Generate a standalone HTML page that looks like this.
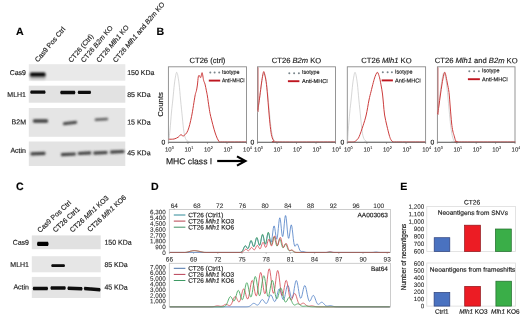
<!DOCTYPE html>
<html><head><meta charset="utf-8"><title>Figure</title>
<style>
html,body{margin:0;padding:0;background:#fff;}
svg{display:block;font-family:"Liberation Sans", Arial, Helvetica, sans-serif;}
text{stroke:#222;stroke-width:0.16px;}
text.th{stroke-width:0.05px;}
</style></head>
<body>
<svg width="520" height="315" viewBox="0 0 520 315">
<defs>
<filter id="bl" x="-30%" y="-100%" width="160%" height="300%"><feGaussianBlur stdDeviation="0.7"/></filter>
<filter id="bl2" x="-30%" y="-100%" width="160%" height="300%"><feGaussianBlur stdDeviation="0.85"/></filter>
<filter id="soft" x="-5%" y="-10%" width="110%" height="120%"><feGaussianBlur stdDeviation="0.4"/></filter>
</defs>
<rect width="520" height="315" fill="#fff"/>
<text x="16.00" y="34.90" font-size="10.6" text-anchor="start" font-weight="bold" fill="#000" transform="rotate(0.1 16.00 34.90)" >A</text>
<text x="156.50" y="34.90" font-size="10.6" text-anchor="start" font-weight="bold" fill="#000" transform="rotate(0.1 156.50 34.90)" >B</text>
<text x="16.00" y="190.10" font-size="10.6" text-anchor="start" font-weight="bold" fill="#000" transform="rotate(0.1 16.00 190.10)" >C</text>
<text x="151.00" y="190.10" font-size="10.6" text-anchor="start" font-weight="bold" fill="#000" transform="rotate(0.1 151.00 190.10)" >D</text>
<text x="400.20" y="190.10" font-size="10.6" text-anchor="start" font-weight="bold" fill="#000" transform="rotate(0.1 400.20 190.10)" >E</text>
<text x="0" y="0" font-size="7" fill="#1a1a1a" transform="translate(37.90,62.50) rotate(-50)">Cas9 Pos Ctrl</text>
<text x="0" y="0" font-size="7" fill="#1a1a1a" transform="translate(71.40,63.00) rotate(-50)">CT26 (Ctrl)</text>
<text x="0" y="0" font-size="7" fill="#1a1a1a" transform="translate(83.90,63.00) rotate(-50)">CT26 <tspan font-style="italic">B2m</tspan> KO</text>
<text x="0" y="0" font-size="7" fill="#1a1a1a" transform="translate(99.40,63.00) rotate(-50)">CT26 <tspan font-style="italic">Mlh1</tspan> KO</text>
<text x="0" y="0" font-size="7" fill="#1a1a1a" transform="translate(115.90,63.00) rotate(-50)">CT26 <tspan font-style="italic">Mlh1</tspan> and <tspan font-style="italic">B2m</tspan> KO</text>
<rect x="28.8" y="64.2" width="96.50" height="16.50" fill="#e9e9e9" filter="url(#soft)"/>
<rect x="28.8" y="85.7" width="96.50" height="17.00" fill="#e2e2e2" filter="url(#soft)"/>
<rect x="28.8" y="108" width="96.50" height="28.80" fill="#e5e5e5" filter="url(#soft)"/>
<rect x="28.8" y="141.5" width="96.50" height="24.50" fill="#e3e3e3" filter="url(#soft)"/>
<text x="26.00" y="75.10" font-size="7" text-anchor="end" font-weight="normal" fill="#1a1a1a" transform="rotate(0.1 26.00 75.10)" >Cas9</text>
<text x="26.00" y="97.00" font-size="7" text-anchor="end" font-weight="normal" fill="#1a1a1a" transform="rotate(0.1 26.00 97.00)" >MLH1</text>
<text x="26.00" y="124.40" font-size="7" text-anchor="end" font-weight="normal" fill="#1a1a1a" transform="rotate(0.1 26.00 124.40)" >B2M</text>
<text x="26.00" y="152.90" font-size="7" text-anchor="end" font-weight="normal" fill="#1a1a1a" transform="rotate(0.1 26.00 152.90)" >Actin</text>
<text x="127.20" y="74.90" font-size="7" text-anchor="start" font-weight="normal" fill="#1a1a1a" transform="rotate(0.1 127.20 74.90)" >150 KDa</text>
<text x="127.20" y="96.90" font-size="7" text-anchor="start" font-weight="normal" fill="#1a1a1a" transform="rotate(0.1 127.20 96.90)" >85 KDa</text>
<text x="127.20" y="124.60" font-size="7" text-anchor="start" font-weight="normal" fill="#1a1a1a" transform="rotate(0.1 127.20 124.60)" >15 KDa</text>
<text x="127.20" y="155.30" font-size="7" text-anchor="start" font-weight="normal" fill="#1a1a1a" transform="rotate(0.1 127.20 155.30)" >45 KDa</text>
<path d="M30.80,75.50 L45.00,75.50 Q46.20,77.50 45.00,79.50 L30.80,79.50 Q29.60,77.50 30.80,75.50Z" fill="#999" opacity="0.6" filter="url(#bl2)"/>
<path d="M30.50,72.40 L45.00,72.40 Q46.20,74.40 45.00,76.40 L30.50,76.40 Q29.30,74.40 30.50,72.40Z" fill="#050505" opacity="1.0" filter="url(#bl2)"/>
<path d="M30.80,90.55 L45.00,90.55 Q46.20,92.20 45.00,93.85 L30.80,93.85 Q29.60,92.20 30.80,90.55Z" fill="#0a0a0a" opacity="1.0" filter="url(#bl)"/>
<path d="M60.80,90.65 L74.80,90.65 Q76.00,92.40 74.80,94.15 L60.80,94.15 Q59.60,92.40 60.80,90.65Z" fill="#080808" opacity="1.0" filter="url(#bl)"/>
<path d="M78.30,90.85 L90.50,90.85 Q91.70,92.40 90.50,93.95 L78.30,93.95 Q77.10,92.40 78.30,90.85Z" fill="#101010" opacity="1.0" filter="url(#bl)"/>
<path d="M33.50,119.30 L47.50,119.30 Q48.70,121.00 47.50,122.70 L33.50,122.70 Q32.30,121.00 33.50,119.30Z" fill="#3c3c3c" opacity="1.0" filter="url(#bl2)"/>
<path d="M63.50,122.25 L76.50,120.75 Q77.70,122.25 76.50,123.75 L63.50,125.25 Q62.30,123.75 63.50,122.25Z" fill="#454545" opacity="1.0" filter="url(#bl2)"/>
<path d="M95.20,118.50 L107.60,117.70 Q108.80,119.00 107.60,120.30 L95.20,121.10 Q94.00,119.80 95.20,118.50Z" fill="#5a5a5a" opacity="1.0" filter="url(#bl2)"/>
<path d="M31.00,152.30 L45.00,151.70 Q46.20,153.30 45.00,154.90 L31.00,155.50 Q29.80,153.90 31.00,152.30Z" fill="#404040" opacity="1.0" filter="url(#bl2)"/>
<path d="M61.40,153.00 L75.40,152.40 Q76.60,154.00 75.40,155.60 L61.40,156.20 Q60.20,154.60 61.40,153.00Z" fill="#404040" opacity="1.0" filter="url(#bl2)"/>
<path d="M78.30,151.90 L90.80,151.30 Q92.00,152.90 90.80,154.50 L78.30,155.10 Q77.10,153.50 78.30,151.90Z" fill="#404040" opacity="1.0" filter="url(#bl2)"/>
<path d="M93.80,151.50 L107.10,150.90 Q108.30,152.50 107.10,154.10 L93.80,154.70 Q92.60,153.10 93.80,151.50Z" fill="#404040" opacity="1.0" filter="url(#bl2)"/>
<path d="M110.60,150.50 L124.00,149.90 Q125.20,151.50 124.00,153.10 L110.60,153.70 Q109.40,152.10 110.60,150.50Z" fill="#404040" opacity="1.0" filter="url(#bl2)"/>
<text x="0" y="0" font-size="7" fill="#1a1a1a" transform="translate(40.00,233.00) rotate(-43)">Cas9 Pos Ctrl</text>
<text x="0" y="0" font-size="7" fill="#1a1a1a" transform="translate(55.50,232.80) rotate(-43)">CT26 Ctrl1</text>
<text x="0" y="0" font-size="7" fill="#1a1a1a" transform="translate(72.50,232.80) rotate(-43)">CT26 <tspan font-style="italic">Mlh1</tspan> KO3</text>
<text x="0" y="0" font-size="7" fill="#1a1a1a" transform="translate(90.00,232.30) rotate(-43)">CT26 <tspan font-style="italic">Mlh1</tspan> KO6</text>
<rect x="31.8" y="235.4" width="68.90" height="13.80" fill="#e1e1e1" filter="url(#soft)"/>
<rect x="31.8" y="256.2" width="68.90" height="16.10" fill="#e6e6e6" filter="url(#soft)"/>
<rect x="31.8" y="276.9" width="68.90" height="21.10" fill="#e4e4e4" filter="url(#soft)"/>
<text x="29.00" y="244.80" font-size="7" text-anchor="end" font-weight="normal" fill="#1a1a1a" transform="rotate(0.1 29.00 244.80)" >Cas9</text>
<text x="29.00" y="267.10" font-size="7" text-anchor="end" font-weight="normal" fill="#1a1a1a" transform="rotate(0.1 29.00 267.10)" >MLH1</text>
<text x="29.00" y="289.40" font-size="7" text-anchor="end" font-weight="normal" fill="#1a1a1a" transform="rotate(0.1 29.00 289.40)" >Actin</text>
<text x="104.40" y="244.70" font-size="7" text-anchor="start" font-weight="normal" fill="#1a1a1a" transform="rotate(0.1 104.40 244.70)" >150 KDa</text>
<text x="104.40" y="266.90" font-size="7" text-anchor="start" font-weight="normal" fill="#1a1a1a" transform="rotate(0.1 104.40 266.90)" >85 KDa</text>
<text x="104.40" y="289.60" font-size="7" text-anchor="start" font-weight="normal" fill="#1a1a1a" transform="rotate(0.1 104.40 289.60)" >45 KDa</text>
<path d="M37.60,241.70 L48.00,241.70 Q49.20,243.80 48.00,245.90 L37.60,245.90 Q36.40,243.80 37.60,241.70Z" fill="#050505" opacity="1.0" filter="url(#bl)"/>
<path d="M51.80,264.30 L64.40,264.30 Q65.60,265.70 64.40,267.10 L51.80,267.10 Q50.60,265.70 51.80,264.30Z" fill="#080808" opacity="1.0" filter="url(#bl)"/>
<path d="M33.30,286.65 L47.50,286.65 Q48.70,288.40 47.50,290.15 L33.30,290.15 Q32.10,288.40 33.30,286.65Z" fill="#0a0a0a" opacity="1.0" filter="url(#bl)"/>
<path d="M51.00,286.35 L65.20,286.35 Q66.40,288.10 65.20,289.85 L51.00,289.85 Q49.80,288.10 51.00,286.35Z" fill="#0a0a0a" opacity="1.0" filter="url(#bl)"/>
<path d="M68.00,286.55 L82.00,286.95 Q83.20,288.70 82.00,290.45 L68.00,290.05 Q66.80,288.30 68.00,286.55Z" fill="#0a0a0a" opacity="1.0" filter="url(#bl)"/>
<path d="M84.40,286.75 L100.00,287.95 Q101.20,289.70 100.00,291.45 L84.40,290.25 Q83.20,288.50 84.40,286.75Z" fill="#0a0a0a" opacity="1.0" filter="url(#bl)"/>
<text x="207.45" y="63.10" font-size="7.6" text-anchor="middle" font-weight="normal" fill="#1a1a1a" transform="rotate(0.1 207.45 63.10)" >CT26 (ctrl)</text>
<rect x="168.4" y="66.8" width="78.10" height="75.50" fill="#fff" stroke="#8a8a8a" stroke-width="0.9"/>
<path d="M168.70,142.00 C168.92,140.00 169.53,135.00 170.00,130.00 C170.47,125.00 171.03,117.00 171.50,112.00 C171.97,107.00 172.32,104.67 172.80,100.00 C173.28,95.33 173.92,88.08 174.40,84.00 C174.88,79.92 175.38,77.33 175.70,75.50 C176.02,73.67 176.13,73.53 176.30,73.00 C176.47,72.47 176.57,72.30 176.70,72.30 C176.83,72.30 176.92,72.47 177.10,73.00 C177.28,73.53 177.47,73.67 177.80,75.50 C178.13,77.33 178.63,79.92 179.10,84.00 C179.57,88.08 180.05,94.33 180.60,100.00 C181.15,105.67 181.87,112.83 182.40,118.00 C182.93,123.17 183.28,127.58 183.80,131.00 C184.32,134.42 184.73,136.73 185.50,138.50 C186.27,140.27 187.48,141.02 188.40,141.60 C189.32,142.18 181.33,141.93 191.00,142.00 C200.67,142.07 237.17,142.00 246.40,142.00" fill="none" stroke="#c4c4c4" stroke-width="0.7"/>
<path d="M168.70,139.20 C169.60,139.17 172.48,139.37 174.10,139.00 C175.72,138.63 177.25,137.75 178.40,137.00 C179.55,136.25 180.18,134.67 181.00,134.50 C181.82,134.33 182.17,136.63 183.30,136.00 C184.43,135.37 186.42,133.98 187.80,130.70 C189.18,127.42 190.40,122.08 191.60,116.30 C192.80,110.52 194.20,100.25 195.00,96.00 C195.80,91.75 196.00,92.63 196.40,90.80 C196.80,88.97 197.08,87.33 197.40,85.00 C197.72,82.67 197.98,78.38 198.30,76.80 C198.62,75.22 198.90,75.37 199.30,75.50 C199.70,75.63 200.23,78.07 200.70,77.60 C201.17,77.13 201.62,72.25 202.10,72.70 C202.58,73.15 203.12,78.40 203.60,80.30 C204.08,82.20 204.53,82.35 205.00,84.10 C205.47,85.85 206.00,88.82 206.40,90.80 C206.80,92.78 206.97,93.30 207.40,96.00 C207.83,98.70 208.45,103.62 209.00,107.00 C209.55,110.38 209.67,111.97 210.70,116.30 C211.73,120.63 213.82,128.82 215.20,133.00 C216.58,137.18 217.80,139.90 219.00,141.40 C220.20,142.90 217.83,141.90 222.40,142.00 C226.97,142.10 242.40,142.00 246.40,142.00" fill="none" stroke="#cc3c3c" stroke-width="1.0"/>
<line x1="168.40" y1="142.3" x2="246.50" y2="142.3" stroke="#6a6a6a" stroke-width="0.9"/>
<circle cx="210.30" cy="72.50" r="1.0" fill="#7a868c"/>
<circle cx="214.60" cy="72.50" r="1.0" fill="#7a868c"/>
<circle cx="219.20" cy="72.50" r="1.0" fill="#7a868c"/>
<line x1="208.80" y1="80.60" x2="220.20" y2="80.60" stroke="#be1620" stroke-width="1.9"/>
<text x="222.10" y="73.70" font-size="5.4" text-anchor="start" font-weight="normal" fill="#1a1a1a" transform="rotate(0.1 222.10 73.70)" >Isotype</text>
<text x="222.10" y="82.30" font-size="5.6" text-anchor="start" font-weight="normal" fill="#1a1a1a" transform="rotate(0.1 222.10 82.30)" textLength="22.6" lengthAdjust="spacingAndGlyphs">Anti-MHCI</text>
<text x="163.40" y="144.50" font-size="6.8" text-anchor="middle" font-weight="normal" fill="#1a1a1a" transform="rotate(0.1 163.40 144.50)" >0</text>
<line x1="168.40" y1="142.3" x2="168.40" y2="143.8" stroke="#6a6a6a" stroke-width="0.7"/>
<text x="169.40" y="151.50" font-size="6.0" text-anchor="middle" font-weight="normal" fill="#1a1a1a" transform="rotate(0.1 169.40 151.50)" class="th">10<tspan font-size="3.8" dy="-2.4">0</tspan></text>
<line x1="187.93" y1="142.3" x2="187.93" y2="143.8" stroke="#6a6a6a" stroke-width="0.7"/>
<text x="188.93" y="151.50" font-size="6.0" text-anchor="middle" font-weight="normal" fill="#1a1a1a" transform="rotate(0.1 188.93 151.50)" class="th">10<tspan font-size="3.8" dy="-2.4">1</tspan></text>
<line x1="207.45" y1="142.3" x2="207.45" y2="143.8" stroke="#6a6a6a" stroke-width="0.7"/>
<text x="208.45" y="151.50" font-size="6.0" text-anchor="middle" font-weight="normal" fill="#1a1a1a" transform="rotate(0.1 208.45 151.50)" class="th">10<tspan font-size="3.8" dy="-2.4">2</tspan></text>
<line x1="226.97" y1="142.3" x2="226.97" y2="143.8" stroke="#6a6a6a" stroke-width="0.7"/>
<text x="227.97" y="151.50" font-size="6.0" text-anchor="middle" font-weight="normal" fill="#1a1a1a" transform="rotate(0.1 227.97 151.50)" class="th">10<tspan font-size="3.8" dy="-2.4">3</tspan></text>
<line x1="246.50" y1="142.3" x2="246.50" y2="143.8" stroke="#6a6a6a" stroke-width="0.7"/>
<text x="247.50" y="151.50" font-size="6.0" text-anchor="middle" font-weight="normal" fill="#1a1a1a" transform="rotate(0.1 247.50 151.50)" class="th">10<tspan font-size="3.8" dy="-2.4">4</tspan></text>
<text x="296.50" y="63.10" font-size="7.6" text-anchor="middle" font-weight="normal" fill="#1a1a1a" transform="rotate(0.1 296.50 63.10)" >CT26 <tspan font-style="italic">B2m</tspan> KO</text>
<rect x="257.5" y="66.8" width="78.00" height="75.50" fill="#fff" stroke="#8a8a8a" stroke-width="0.9"/>
<path d="M257.80,112.50 C257.98,111.08 258.50,107.25 258.90,104.00 C259.30,100.75 259.70,96.83 260.20,93.00 C260.70,89.17 261.42,84.08 261.90,81.00 C262.38,77.92 262.73,75.90 263.10,74.50 C263.47,73.10 263.80,72.60 264.10,72.60 C264.40,72.60 264.52,72.93 264.90,74.50 C265.28,76.07 265.90,78.42 266.40,82.00 C266.90,85.58 267.42,91.17 267.90,96.00 C268.38,100.83 268.83,106.17 269.30,111.00 C269.77,115.83 270.20,120.92 270.70,125.00 C271.20,129.08 271.70,132.80 272.30,135.50 C272.90,138.20 273.60,140.12 274.30,141.20 C275.00,142.28 266.30,141.87 276.50,142.00 C286.70,142.13 325.67,142.00 335.50,142.00" fill="none" stroke="#c4c4c4" stroke-width="0.7"/>
<path d="M257.80,110.50 C257.95,109.42 258.35,106.47 258.70,104.00 C259.05,101.53 259.43,99.20 259.90,95.70 C260.37,92.20 261.02,86.48 261.50,83.00 C261.98,79.52 262.43,76.70 262.80,74.80 C263.17,72.90 263.42,71.77 263.70,71.60 C263.98,71.43 264.10,72.15 264.50,73.80 C264.90,75.45 265.60,77.97 266.10,81.50 C266.60,85.03 267.05,90.10 267.50,95.00 C267.95,99.90 268.33,105.62 268.80,110.90 C269.27,116.18 269.80,122.47 270.30,126.70 C270.80,130.93 271.18,133.93 271.80,136.30 C272.42,138.67 273.07,139.95 274.00,140.90 C274.93,141.85 267.15,141.82 277.40,142.00 C287.65,142.18 325.82,142.00 335.50,142.00" fill="none" stroke="#cc3c3c" stroke-width="1.0"/>
<line x1="258.20" y1="67.3" x2="258.20" y2="112" stroke="#c86868" stroke-width="0.8"/>
<line x1="257.50" y1="142.3" x2="335.50" y2="142.3" stroke="#6a6a6a" stroke-width="0.9"/>
<circle cx="289.30" cy="73.20" r="1.0" fill="#7a868c"/>
<circle cx="294.10" cy="73.20" r="1.0" fill="#7a868c"/>
<circle cx="298.90" cy="73.20" r="1.0" fill="#7a868c"/>
<line x1="287.90" y1="81.20" x2="299.40" y2="81.20" stroke="#be1620" stroke-width="1.9"/>
<text x="302.10" y="73.80" font-size="5.4" text-anchor="start" font-weight="normal" fill="#1a1a1a" transform="rotate(0.1 302.10 73.80)" >Isotype</text>
<text x="302.10" y="82.90" font-size="5.6" text-anchor="start" font-weight="normal" fill="#1a1a1a" transform="rotate(0.1 302.10 82.90)" >Anti-MHCI</text>
<text x="252.50" y="144.50" font-size="6.8" text-anchor="middle" font-weight="normal" fill="#1a1a1a" transform="rotate(0.1 252.50 144.50)" >0</text>
<line x1="257.50" y1="142.3" x2="257.50" y2="143.8" stroke="#6a6a6a" stroke-width="0.7"/>
<text x="258.50" y="151.50" font-size="6.0" text-anchor="middle" font-weight="normal" fill="#1a1a1a" transform="rotate(0.1 258.50 151.50)" class="th">10<tspan font-size="3.8" dy="-2.4">0</tspan></text>
<line x1="277.00" y1="142.3" x2="277.00" y2="143.8" stroke="#6a6a6a" stroke-width="0.7"/>
<text x="278.00" y="151.50" font-size="6.0" text-anchor="middle" font-weight="normal" fill="#1a1a1a" transform="rotate(0.1 278.00 151.50)" class="th">10<tspan font-size="3.8" dy="-2.4">1</tspan></text>
<line x1="296.50" y1="142.3" x2="296.50" y2="143.8" stroke="#6a6a6a" stroke-width="0.7"/>
<text x="297.50" y="151.50" font-size="6.0" text-anchor="middle" font-weight="normal" fill="#1a1a1a" transform="rotate(0.1 297.50 151.50)" class="th">10<tspan font-size="3.8" dy="-2.4">2</tspan></text>
<line x1="316.00" y1="142.3" x2="316.00" y2="143.8" stroke="#6a6a6a" stroke-width="0.7"/>
<text x="317.00" y="151.50" font-size="6.0" text-anchor="middle" font-weight="normal" fill="#1a1a1a" transform="rotate(0.1 317.00 151.50)" class="th">10<tspan font-size="3.8" dy="-2.4">3</tspan></text>
<line x1="335.50" y1="142.3" x2="335.50" y2="143.8" stroke="#6a6a6a" stroke-width="0.7"/>
<text x="336.50" y="151.50" font-size="6.0" text-anchor="middle" font-weight="normal" fill="#1a1a1a" transform="rotate(0.1 336.50 151.50)" class="th">10<tspan font-size="3.8" dy="-2.4">4</tspan></text>
<text x="386.45" y="63.10" font-size="7.6" text-anchor="middle" font-weight="normal" fill="#1a1a1a" transform="rotate(0.1 386.45 63.10)" >CT26 <tspan font-style="italic">Mlh1</tspan> KO</text>
<rect x="347.3" y="66.8" width="78.30" height="75.50" fill="#fff" stroke="#8a8a8a" stroke-width="0.9"/>
<path d="M347.60,142.00 C347.72,140.00 347.93,135.00 348.30,130.00 C348.67,125.00 349.33,117.00 349.80,112.00 C350.27,107.00 350.62,104.67 351.10,100.00 C351.58,95.33 352.22,88.08 352.70,84.00 C353.18,79.92 353.68,77.33 354.00,75.50 C354.32,73.67 354.43,73.53 354.60,73.00 C354.77,72.47 354.87,72.30 355.00,72.30 C355.13,72.30 355.22,72.47 355.40,73.00 C355.58,73.53 355.77,73.67 356.10,75.50 C356.43,77.33 356.93,79.92 357.40,84.00 C357.87,88.08 358.35,94.33 358.90,100.00 C359.45,105.67 360.17,112.83 360.70,118.00 C361.23,123.17 361.58,127.58 362.10,131.00 C362.62,134.42 363.03,136.73 363.80,138.50 C364.57,140.27 365.78,141.02 366.70,141.60 C367.62,142.18 359.53,141.93 369.30,142.00 C379.07,142.07 415.97,142.00 425.30,142.00" fill="none" stroke="#c4c4c4" stroke-width="0.7"/>
<path d="M347.60,142.00 C348.38,142.00 351.13,142.07 352.30,142.00 C353.47,141.93 353.85,141.93 354.60,141.60 C355.35,141.27 356.03,140.85 356.80,140.00 C357.57,139.15 358.17,138.87 359.20,136.50 C360.23,134.13 361.83,129.38 363.00,125.80 C364.17,122.22 365.20,119.30 366.20,115.00 C367.20,110.70 368.20,103.88 369.00,100.00 C369.80,96.12 370.28,94.62 371.00,91.70 C371.72,88.78 372.63,85.00 373.30,82.50 C373.97,80.00 374.45,78.27 375.00,76.70 C375.55,75.13 376.18,73.83 376.60,73.10 C377.02,72.37 377.20,72.15 377.50,72.30 C377.80,72.45 378.05,73.08 378.40,74.00 C378.75,74.92 379.17,76.00 379.60,77.80 C380.03,79.60 380.52,82.10 381.00,84.80 C381.48,87.50 382.08,90.77 382.50,94.00 C382.92,97.23 383.15,100.70 383.50,104.20 C383.85,107.70 384.03,111.40 384.60,115.00 C385.17,118.60 386.13,122.47 386.90,125.80 C387.67,129.13 388.55,132.72 389.20,135.00 C389.85,137.28 390.20,138.38 390.80,139.50 C391.40,140.62 391.88,141.28 392.80,141.70 C393.72,142.12 390.88,141.95 396.30,142.00 C401.72,142.05 420.47,142.00 425.30,142.00" fill="none" stroke="#cc3c3c" stroke-width="1.0"/>
<line x1="347.30" y1="142.3" x2="425.60" y2="142.3" stroke="#6a6a6a" stroke-width="0.9"/>
<circle cx="382.80" cy="72.30" r="1.0" fill="#7a868c"/>
<circle cx="387.60" cy="72.30" r="1.0" fill="#7a868c"/>
<circle cx="391.90" cy="72.30" r="1.0" fill="#7a868c"/>
<line x1="381.70" y1="80.40" x2="392.90" y2="80.40" stroke="#be1620" stroke-width="1.9"/>
<text x="395.10" y="73.40" font-size="5.4" text-anchor="start" font-weight="normal" fill="#1a1a1a" transform="rotate(0.1 395.10 73.40)" >Isotype</text>
<text x="395.10" y="82.40" font-size="5.6" text-anchor="start" font-weight="normal" fill="#1a1a1a" transform="rotate(0.1 395.10 82.40)" >Anti-MHCI</text>
<text x="342.30" y="144.50" font-size="6.8" text-anchor="middle" font-weight="normal" fill="#1a1a1a" transform="rotate(0.1 342.30 144.50)" >0</text>
<line x1="347.30" y1="142.3" x2="347.30" y2="143.8" stroke="#6a6a6a" stroke-width="0.7"/>
<text x="348.30" y="151.50" font-size="6.0" text-anchor="middle" font-weight="normal" fill="#1a1a1a" transform="rotate(0.1 348.30 151.50)" class="th">10<tspan font-size="3.8" dy="-2.4">0</tspan></text>
<line x1="366.88" y1="142.3" x2="366.88" y2="143.8" stroke="#6a6a6a" stroke-width="0.7"/>
<text x="367.88" y="151.50" font-size="6.0" text-anchor="middle" font-weight="normal" fill="#1a1a1a" transform="rotate(0.1 367.88 151.50)" class="th">10<tspan font-size="3.8" dy="-2.4">1</tspan></text>
<line x1="386.45" y1="142.3" x2="386.45" y2="143.8" stroke="#6a6a6a" stroke-width="0.7"/>
<text x="387.45" y="151.50" font-size="6.0" text-anchor="middle" font-weight="normal" fill="#1a1a1a" transform="rotate(0.1 387.45 151.50)" class="th">10<tspan font-size="3.8" dy="-2.4">2</tspan></text>
<line x1="406.03" y1="142.3" x2="406.03" y2="143.8" stroke="#6a6a6a" stroke-width="0.7"/>
<text x="407.03" y="151.50" font-size="6.0" text-anchor="middle" font-weight="normal" fill="#1a1a1a" transform="rotate(0.1 407.03 151.50)" class="th">10<tspan font-size="3.8" dy="-2.4">3</tspan></text>
<line x1="425.60" y1="142.3" x2="425.60" y2="143.8" stroke="#6a6a6a" stroke-width="0.7"/>
<text x="426.60" y="151.50" font-size="6.0" text-anchor="middle" font-weight="normal" fill="#1a1a1a" transform="rotate(0.1 426.60 151.50)" class="th">10<tspan font-size="3.8" dy="-2.4">4</tspan></text>
<text x="476.20" y="63.10" font-size="7.6" text-anchor="middle" font-weight="normal" fill="#1a1a1a" transform="rotate(0.1 476.20 63.10)" >CT26 <tspan font-style="italic">Mlh1</tspan> and <tspan font-style="italic">B2m</tspan> KO</text>
<rect x="437.4" y="66.8" width="77.60" height="75.50" fill="#fff" stroke="#8a8a8a" stroke-width="0.9"/>
<path d="M437.70,112.50 C437.88,111.08 438.40,107.25 438.80,104.00 C439.20,100.75 439.60,96.83 440.10,93.00 C440.60,89.17 441.32,84.08 441.80,81.00 C442.28,77.92 442.63,75.90 443.00,74.50 C443.37,73.10 443.70,72.60 444.00,72.60 C444.30,72.60 444.42,72.93 444.80,74.50 C445.18,76.07 445.80,78.42 446.30,82.00 C446.80,85.58 447.32,91.17 447.80,96.00 C448.28,100.83 448.73,106.17 449.20,111.00 C449.67,115.83 450.10,120.92 450.60,125.00 C451.10,129.08 451.60,132.80 452.20,135.50 C452.80,138.20 453.50,140.12 454.20,141.20 C454.90,142.28 446.20,141.87 456.40,142.00 C466.60,142.13 505.57,142.00 515.40,142.00" fill="none" stroke="#c4c4c4" stroke-width="0.7"/>
<path d="M437.70,114.00 C437.90,112.67 438.45,109.17 438.90,106.00 C439.35,102.83 439.88,98.67 440.40,95.00 C440.92,91.33 441.45,87.33 442.00,84.00 C442.55,80.67 443.23,76.95 443.70,75.00 C444.17,73.05 444.47,72.33 444.80,72.30 C445.13,72.27 445.28,73.02 445.70,74.80 C446.12,76.58 446.75,80.05 447.30,83.00 C447.85,85.95 448.50,88.33 449.00,92.50 C449.50,96.67 449.87,102.92 450.30,108.00 C450.73,113.08 451.18,119.17 451.60,123.00 C452.02,126.83 452.38,128.90 452.80,131.00 C453.22,133.10 453.63,134.02 454.10,135.60 C454.57,137.18 455.05,139.47 455.60,140.50 C456.15,141.53 456.77,141.55 457.40,141.80 C458.03,142.05 449.73,141.97 459.40,142.00 C469.07,142.03 506.07,142.00 515.40,142.00" fill="none" stroke="#cc3c3c" stroke-width="1.0"/>
<line x1="438.10" y1="67.3" x2="438.10" y2="115" stroke="#c86868" stroke-width="0.8"/>
<line x1="437.40" y1="142.3" x2="515.00" y2="142.3" stroke="#6a6a6a" stroke-width="0.9"/>
<circle cx="469.30" cy="71.20" r="1.0" fill="#7a868c"/>
<circle cx="474.10" cy="71.20" r="1.0" fill="#7a868c"/>
<circle cx="478.90" cy="71.20" r="1.0" fill="#7a868c"/>
<line x1="467.90" y1="79.20" x2="479.90" y2="79.20" stroke="#be1620" stroke-width="1.9"/>
<text x="482.10" y="72.20" font-size="5.4" text-anchor="start" font-weight="normal" fill="#1a1a1a" transform="rotate(0.1 482.10 72.20)" >Isotype</text>
<text x="482.10" y="81.20" font-size="5.6" text-anchor="start" font-weight="normal" fill="#1a1a1a" transform="rotate(0.1 482.10 81.20)" >Anti-MHCI</text>
<text x="432.40" y="144.50" font-size="6.8" text-anchor="middle" font-weight="normal" fill="#1a1a1a" transform="rotate(0.1 432.40 144.50)" >0</text>
<line x1="437.40" y1="142.3" x2="437.40" y2="143.8" stroke="#6a6a6a" stroke-width="0.7"/>
<text x="438.40" y="151.50" font-size="6.0" text-anchor="middle" font-weight="normal" fill="#1a1a1a" transform="rotate(0.1 438.40 151.50)" class="th">10<tspan font-size="3.8" dy="-2.4">0</tspan></text>
<line x1="456.80" y1="142.3" x2="456.80" y2="143.8" stroke="#6a6a6a" stroke-width="0.7"/>
<text x="457.80" y="151.50" font-size="6.0" text-anchor="middle" font-weight="normal" fill="#1a1a1a" transform="rotate(0.1 457.80 151.50)" class="th">10<tspan font-size="3.8" dy="-2.4">1</tspan></text>
<line x1="476.20" y1="142.3" x2="476.20" y2="143.8" stroke="#6a6a6a" stroke-width="0.7"/>
<text x="477.20" y="151.50" font-size="6.0" text-anchor="middle" font-weight="normal" fill="#1a1a1a" transform="rotate(0.1 477.20 151.50)" class="th">10<tspan font-size="3.8" dy="-2.4">2</tspan></text>
<line x1="495.60" y1="142.3" x2="495.60" y2="143.8" stroke="#6a6a6a" stroke-width="0.7"/>
<text x="496.60" y="151.50" font-size="6.0" text-anchor="middle" font-weight="normal" fill="#1a1a1a" transform="rotate(0.1 496.60 151.50)" class="th">10<tspan font-size="3.8" dy="-2.4">3</tspan></text>
<line x1="515.00" y1="142.3" x2="515.00" y2="143.8" stroke="#6a6a6a" stroke-width="0.7"/>
<text x="516.00" y="151.50" font-size="6.0" text-anchor="middle" font-weight="normal" fill="#1a1a1a" transform="rotate(0.1 516.00 151.50)" class="th">10<tspan font-size="3.8" dy="-2.4">4</tspan></text>
<text x="0" y="0" font-size="7.8" fill="#1a1a1a" text-anchor="middle" transform="translate(162.8,104.4) rotate(-90)">Counts</text>
<text x="165.90" y="164.30" font-size="8.6" text-anchor="start" font-weight="normal" fill="#111" transform="rotate(0.1 165.90 164.30)" >MHC class I</text>
<line x1="217.2" y1="161" x2="244" y2="161" stroke="#000" stroke-width="2.2"/>
<path d="M237.0,156.4 L245.4,161 L237.0,165.6" fill="none" stroke="#000" stroke-width="2.2" stroke-linejoin="miter"/>
<rect x="169.3" y="209.5" width="221.20" height="43.10" fill="#fff" stroke="#c0c0c0" stroke-width="0.8"/>
<rect x="169.3" y="263.3" width="221.20" height="43.70" fill="#fff" stroke="#c0c0c0" stroke-width="0.8"/>
<text x="174.25" y="207.90" font-size="6.5" text-anchor="middle" font-weight="normal" fill="#1a1a1a" transform="rotate(0.1 174.25 207.90)" class="th">64</text>
<line x1="174.25" y1="209.5" x2="174.25" y2="208.3" stroke="#888" stroke-width="0.6"/>
<text x="196.97" y="207.90" font-size="6.5" text-anchor="middle" font-weight="normal" fill="#1a1a1a" transform="rotate(0.1 196.97 207.90)" class="th">68</text>
<line x1="196.97" y1="209.5" x2="196.97" y2="208.3" stroke="#888" stroke-width="0.6"/>
<text x="219.69" y="207.90" font-size="6.5" text-anchor="middle" font-weight="normal" fill="#1a1a1a" transform="rotate(0.1 219.69 207.90)" class="th">72</text>
<line x1="219.69" y1="209.5" x2="219.69" y2="208.3" stroke="#888" stroke-width="0.6"/>
<text x="242.41" y="207.90" font-size="6.5" text-anchor="middle" font-weight="normal" fill="#1a1a1a" transform="rotate(0.1 242.41 207.90)" class="th">76</text>
<line x1="242.41" y1="209.5" x2="242.41" y2="208.3" stroke="#888" stroke-width="0.6"/>
<text x="265.13" y="207.90" font-size="6.5" text-anchor="middle" font-weight="normal" fill="#1a1a1a" transform="rotate(0.1 265.13 207.90)" class="th">80</text>
<line x1="265.13" y1="209.5" x2="265.13" y2="208.3" stroke="#888" stroke-width="0.6"/>
<text x="287.85" y="207.90" font-size="6.5" text-anchor="middle" font-weight="normal" fill="#1a1a1a" transform="rotate(0.1 287.85 207.90)" class="th">84</text>
<line x1="287.85" y1="209.5" x2="287.85" y2="208.3" stroke="#888" stroke-width="0.6"/>
<text x="310.57" y="207.90" font-size="6.5" text-anchor="middle" font-weight="normal" fill="#1a1a1a" transform="rotate(0.1 310.57 207.90)" class="th">88</text>
<line x1="310.57" y1="209.5" x2="310.57" y2="208.3" stroke="#888" stroke-width="0.6"/>
<text x="333.29" y="207.90" font-size="6.5" text-anchor="middle" font-weight="normal" fill="#1a1a1a" transform="rotate(0.1 333.29 207.90)" class="th">92</text>
<line x1="333.29" y1="209.5" x2="333.29" y2="208.3" stroke="#888" stroke-width="0.6"/>
<text x="356.01" y="207.90" font-size="6.5" text-anchor="middle" font-weight="normal" fill="#1a1a1a" transform="rotate(0.1 356.01 207.90)" class="th">96</text>
<line x1="356.01" y1="209.5" x2="356.01" y2="208.3" stroke="#888" stroke-width="0.6"/>
<text x="378.73" y="207.90" font-size="6.5" text-anchor="middle" font-weight="normal" fill="#1a1a1a" transform="rotate(0.1 378.73 207.90)" class="th">100</text>
<line x1="378.73" y1="209.5" x2="378.73" y2="208.3" stroke="#888" stroke-width="0.6"/>
<text x="169.40" y="261.40" font-size="6.5" text-anchor="middle" font-weight="normal" fill="#1a1a1a" transform="rotate(0.1 169.40 261.40)" class="th">66</text>
<line x1="169.40" y1="252.6" x2="169.40" y2="253.79999999999998" stroke="#888" stroke-width="0.6"/>
<text x="193.60" y="261.40" font-size="6.5" text-anchor="middle" font-weight="normal" fill="#1a1a1a" transform="rotate(0.1 193.60 261.40)" class="th">69</text>
<line x1="193.60" y1="252.6" x2="193.60" y2="253.79999999999998" stroke="#888" stroke-width="0.6"/>
<text x="217.80" y="261.40" font-size="6.5" text-anchor="middle" font-weight="normal" fill="#1a1a1a" transform="rotate(0.1 217.80 261.40)" class="th">72</text>
<line x1="217.80" y1="252.6" x2="217.80" y2="253.79999999999998" stroke="#888" stroke-width="0.6"/>
<text x="242.00" y="261.40" font-size="6.5" text-anchor="middle" font-weight="normal" fill="#1a1a1a" transform="rotate(0.1 242.00 261.40)" class="th">75</text>
<line x1="242.00" y1="252.6" x2="242.00" y2="253.79999999999998" stroke="#888" stroke-width="0.6"/>
<text x="266.20" y="261.40" font-size="6.5" text-anchor="middle" font-weight="normal" fill="#1a1a1a" transform="rotate(0.1 266.20 261.40)" class="th">78</text>
<line x1="266.20" y1="252.6" x2="266.20" y2="253.79999999999998" stroke="#888" stroke-width="0.6"/>
<text x="290.40" y="261.40" font-size="6.5" text-anchor="middle" font-weight="normal" fill="#1a1a1a" transform="rotate(0.1 290.40 261.40)" class="th">81</text>
<line x1="290.40" y1="252.6" x2="290.40" y2="253.79999999999998" stroke="#888" stroke-width="0.6"/>
<text x="314.61" y="261.40" font-size="6.5" text-anchor="middle" font-weight="normal" fill="#1a1a1a" transform="rotate(0.1 314.61 261.40)" class="th">84</text>
<line x1="314.61" y1="252.6" x2="314.61" y2="253.79999999999998" stroke="#888" stroke-width="0.6"/>
<text x="338.81" y="261.40" font-size="6.5" text-anchor="middle" font-weight="normal" fill="#1a1a1a" transform="rotate(0.1 338.81 261.40)" class="th">87</text>
<line x1="338.81" y1="252.6" x2="338.81" y2="253.79999999999998" stroke="#888" stroke-width="0.6"/>
<text x="363.01" y="261.40" font-size="6.5" text-anchor="middle" font-weight="normal" fill="#1a1a1a" transform="rotate(0.1 363.01 261.40)" class="th">90</text>
<line x1="363.01" y1="252.6" x2="363.01" y2="253.79999999999998" stroke="#888" stroke-width="0.6"/>
<text x="387.21" y="261.40" font-size="6.5" text-anchor="middle" font-weight="normal" fill="#1a1a1a" transform="rotate(0.1 387.21 261.40)" class="th">93</text>
<line x1="387.21" y1="252.6" x2="387.21" y2="253.79999999999998" stroke="#888" stroke-width="0.6"/>
<text x="165.80" y="214.20" font-size="6.3" text-anchor="end" font-weight="normal" fill="#1a1a1a" transform="rotate(0.1 165.80 214.20)" class="th">6,300</text>
<text x="165.80" y="220.03" font-size="6.3" text-anchor="end" font-weight="normal" fill="#1a1a1a" transform="rotate(0.1 165.80 220.03)" class="th">5,400</text>
<text x="165.80" y="225.86" font-size="6.3" text-anchor="end" font-weight="normal" fill="#1a1a1a" transform="rotate(0.1 165.80 225.86)" class="th">4,500</text>
<text x="165.80" y="231.69" font-size="6.3" text-anchor="end" font-weight="normal" fill="#1a1a1a" transform="rotate(0.1 165.80 231.69)" class="th">3,600</text>
<text x="165.80" y="237.52" font-size="6.3" text-anchor="end" font-weight="normal" fill="#1a1a1a" transform="rotate(0.1 165.80 237.52)" class="th">2,700</text>
<text x="165.80" y="243.35" font-size="6.3" text-anchor="end" font-weight="normal" fill="#1a1a1a" transform="rotate(0.1 165.80 243.35)" class="th">1,800</text>
<text x="165.80" y="249.18" font-size="6.3" text-anchor="end" font-weight="normal" fill="#1a1a1a" transform="rotate(0.1 165.80 249.18)" class="th">900</text>
<text x="165.80" y="255.01" font-size="6.3" text-anchor="end" font-weight="normal" fill="#1a1a1a" transform="rotate(0.1 165.80 255.01)" class="th">0</text>
<text x="165.80" y="269.40" font-size="6.3" text-anchor="end" font-weight="normal" fill="#1a1a1a" transform="rotate(0.1 165.80 269.40)" class="th">7,000</text>
<text x="165.80" y="275.06" font-size="6.3" text-anchor="end" font-weight="normal" fill="#1a1a1a" transform="rotate(0.1 165.80 275.06)" class="th">6,000</text>
<text x="165.80" y="280.72" font-size="6.3" text-anchor="end" font-weight="normal" fill="#1a1a1a" transform="rotate(0.1 165.80 280.72)" class="th">5,000</text>
<text x="165.80" y="286.38" font-size="6.3" text-anchor="end" font-weight="normal" fill="#1a1a1a" transform="rotate(0.1 165.80 286.38)" class="th">4,000</text>
<text x="165.80" y="292.04" font-size="6.3" text-anchor="end" font-weight="normal" fill="#1a1a1a" transform="rotate(0.1 165.80 292.04)" class="th">3,000</text>
<text x="165.80" y="297.70" font-size="6.3" text-anchor="end" font-weight="normal" fill="#1a1a1a" transform="rotate(0.1 165.80 297.70)" class="th">2,000</text>
<text x="165.80" y="303.36" font-size="6.3" text-anchor="end" font-weight="normal" fill="#1a1a1a" transform="rotate(0.1 165.80 303.36)" class="th">1,000</text>
<text x="165.80" y="309.02" font-size="6.3" text-anchor="end" font-weight="normal" fill="#1a1a1a" transform="rotate(0.1 165.80 309.02)" class="th">0</text>
<line x1="173.8" y1="215.00" x2="185.4" y2="215.00" stroke="#2f8a98" stroke-width="1.0"/>
<text x="188.20" y="217.30" font-size="6.4" text-anchor="start" font-weight="normal" fill="#1a1a1a" transform="rotate(0.1 188.20 217.30)" >CT26 (Ctrl1)</text>
<line x1="173.8" y1="221.10" x2="185.4" y2="221.10" stroke="#b8404e" stroke-width="1.0"/>
<text x="188.20" y="223.40" font-size="6.4" text-anchor="start" font-weight="normal" fill="#1a1a1a" transform="rotate(0.1 188.20 223.40)" >CT26 <tspan font-style="italic">Mlh1</tspan> KO3</text>
<line x1="173.8" y1="227.20" x2="185.4" y2="227.20" stroke="#3f8e62" stroke-width="1.0"/>
<text x="188.20" y="229.50" font-size="6.4" text-anchor="start" font-weight="normal" fill="#1a1a1a" transform="rotate(0.1 188.20 229.50)" >CT26 <tspan font-style="italic">Mlh1</tspan> KO6</text>
<line x1="173.8" y1="268.30" x2="185.4" y2="268.30" stroke="#4a72a8" stroke-width="1.0"/>
<text x="188.20" y="270.60" font-size="6.4" text-anchor="start" font-weight="normal" fill="#1a1a1a" transform="rotate(0.1 188.20 270.60)" >CT26 (Ctrl1)</text>
<line x1="173.8" y1="274.40" x2="185.4" y2="274.40" stroke="#b83e54" stroke-width="1.0"/>
<text x="188.20" y="276.70" font-size="6.4" text-anchor="start" font-weight="normal" fill="#1a1a1a" transform="rotate(0.1 188.20 276.70)" >CT26 <tspan font-style="italic">Mlh1</tspan> KO3</text>
<line x1="173.8" y1="280.50" x2="185.4" y2="280.50" stroke="#3e9a64" stroke-width="1.0"/>
<text x="188.20" y="282.80" font-size="6.4" text-anchor="start" font-weight="normal" fill="#1a1a1a" transform="rotate(0.1 188.20 282.80)" >CT26 <tspan font-style="italic">Mlh1</tspan> KO6</text>
<text x="387.90" y="217.20" font-size="6.5" text-anchor="end" font-weight="normal" fill="#1a1a1a" transform="rotate(0.1 387.90 217.20)" >AA003063</text>
<text x="387.90" y="271.10" font-size="6.5" text-anchor="end" font-weight="normal" fill="#1a1a1a" transform="rotate(0.1 387.90 271.10)" >Bat64</text>
<path d="M169.80,252.45 L170.30,252.45 L170.80,252.45 L171.30,252.45 L171.80,252.45 L172.30,252.45 L172.80,252.45 L173.30,252.45 L173.80,252.45 L174.30,252.45 L174.80,252.45 L175.30,252.45 L175.80,252.45 L176.30,252.45 L176.80,252.45 L177.30,252.45 L177.80,252.45 L178.30,252.45 L178.80,252.45 L179.30,252.45 L179.80,252.45 L180.30,252.45 L180.80,252.45 L181.30,252.45 L181.80,252.45 L182.30,252.45 L182.80,252.45 L183.30,252.45 L183.80,252.45 L184.30,252.45 L184.80,252.45 L185.30,252.45 L185.80,252.45 L186.30,252.45 L186.80,252.45 L187.30,252.45 L187.80,252.45 L188.30,252.45 L188.80,252.45 L189.30,252.45 L189.80,252.45 L190.30,252.45 L190.80,252.45 L191.30,252.45 L191.80,252.45 L192.30,252.45 L192.80,252.45 L193.30,252.45 L193.80,252.45 L194.30,252.45 L194.80,252.45 L195.30,252.45 L195.80,252.45 L196.30,252.45 L196.80,252.45 L197.30,252.45 L197.80,252.45 L198.30,252.45 L198.80,252.45 L199.30,252.45 L199.80,252.45 L200.30,252.45 L200.80,252.45 L201.30,252.45 L201.80,252.45 L202.30,252.45 L202.80,252.45 L203.30,252.45 L203.80,252.45 L204.30,252.45 L204.80,252.45 L205.30,252.45 L205.80,252.45 L206.30,252.45 L206.80,252.45 L207.30,252.45 L207.80,252.45 L208.30,252.45 L208.80,252.45 L209.30,252.45 L209.80,252.45 L210.30,252.45 L210.80,252.45 L211.30,252.45 L211.80,252.45 L212.30,252.45 L212.80,252.45 L213.30,252.45 L213.80,252.45 L214.30,252.45 L214.80,252.45 L215.30,252.45 L215.80,252.45 L216.30,252.45 L216.80,252.45 L217.30,252.45 L217.80,252.45 L218.30,252.45 L218.80,252.45 L219.30,252.45 L219.80,252.45 L220.30,252.45 L220.80,252.45 L221.30,252.45 L221.80,252.45 L222.30,252.45 L222.80,252.45 L223.30,252.45 L223.80,252.45 L224.30,252.45 L224.80,252.45 L225.30,252.45 L225.80,252.45 L226.30,252.45 L226.80,252.45 L227.30,252.45 L227.80,252.45 L228.30,252.45 L228.80,252.45 L229.30,252.45 L229.80,252.45 L230.30,252.45 L230.80,252.45 L231.30,252.45 L231.80,252.45 L232.30,252.45 L232.80,252.45 L233.30,252.45 L233.80,252.45 L234.30,252.45 L234.80,252.45 L235.30,252.45 L235.80,252.45 L236.30,252.45 L236.80,252.45 L237.30,252.45 L237.80,252.45 L238.30,252.45 L238.80,252.45 L239.30,252.44 L239.80,252.42 L240.30,252.38 L240.80,252.29 L241.30,252.11 L241.80,251.76 L242.30,251.21 L242.80,250.39 L243.30,249.33 L243.80,248.15 L244.30,247.04 L244.80,246.23 L245.30,245.92 L245.80,246.17 L246.30,246.86 L246.80,247.73 L247.30,248.46 L247.80,248.73 L248.30,248.34 L248.80,247.23 L249.30,245.55 L249.80,243.66 L250.30,242.01 L250.80,241.04 L251.30,241.02 L251.80,241.93 L252.30,243.47 L252.80,245.13 L253.30,246.38 L253.80,246.81 L254.30,246.20 L254.80,244.63 L255.30,242.44 L255.80,240.20 L256.30,238.51 L256.80,237.88 L257.30,238.48 L257.80,240.10 L258.30,242.22 L258.80,244.17 L259.30,245.33 L259.80,245.31 L260.30,244.01 L260.80,241.71 L261.30,238.96 L261.80,236.51 L262.30,235.07 L262.80,235.05 L263.30,236.46 L263.80,238.84 L264.30,241.45 L264.80,243.49 L265.30,244.35 L265.80,243.75 L266.30,241.77 L266.80,238.91 L267.30,235.94 L267.80,233.69 L268.30,232.85 L268.80,233.64 L269.30,235.80 L269.80,238.59 L270.30,241.09 L270.80,242.45 L271.30,242.11 L271.80,239.94 L272.30,236.32 L272.80,232.08 L273.30,228.34 L273.80,226.13 L274.30,226.09 L274.80,228.19 L275.30,231.72 L275.80,235.52 L276.30,238.35 L276.80,239.24 L277.30,237.69 L277.80,233.90 L278.30,228.66 L278.80,223.31 L279.30,219.30 L279.80,217.80 L280.30,219.24 L280.80,223.15 L281.30,228.28 L281.80,233.10 L282.30,236.18 L282.80,236.62 L283.30,234.21 L283.80,229.54 L284.30,223.84 L284.80,218.72 L285.30,215.70 L285.80,215.72 L286.30,218.79 L286.80,224.01 L287.30,229.91 L287.80,234.95 L288.30,237.96 L288.80,238.41 L289.30,236.46 L289.80,232.92 L290.30,228.97 L290.80,225.94 L291.30,224.85 L291.80,226.10 L292.30,229.42 L292.80,233.95 L293.30,238.62 L293.80,242.50 L294.30,245.06 L294.80,246.20 L295.30,246.15 L295.80,245.40 L296.30,244.51 L296.80,243.94 L297.30,244.01 L297.80,244.76 L298.30,246.04 L298.80,247.55 L299.30,248.99 L299.80,250.14 L300.30,250.91 L300.80,251.33 L301.30,251.48 L301.80,251.48 L302.30,251.44 L302.80,251.43 L303.30,251.49 L303.80,251.62 L304.30,251.79 L304.80,251.97 L305.30,252.13 L305.80,252.26 L306.30,252.34 L306.80,252.40 L307.30,252.43 L307.80,252.44 L308.30,252.45 L308.80,252.45 L309.30,252.45 L309.80,252.45 L310.30,252.45 L310.80,252.45 L311.30,252.45 L311.80,252.45 L312.30,252.45 L312.80,252.45 L313.30,252.45 L313.80,252.45 L314.30,252.45 L314.80,252.45 L315.30,252.45 L315.80,252.45 L316.30,252.45 L316.80,252.45 L317.30,252.45 L317.80,252.45 L318.30,252.45 L318.80,252.45 L319.30,252.45 L319.80,252.45 L320.30,252.45 L320.80,252.45 L321.30,252.45 L321.80,252.45 L322.30,252.45 L322.80,252.45 L323.30,252.45 L323.80,252.45 L324.30,252.45 L324.80,252.45 L325.30,252.44 L325.80,252.43 L326.30,252.41 L326.80,252.37 L327.30,252.32 L327.80,252.24 L328.30,252.16 L328.80,252.07 L329.30,251.99 L329.80,251.95 L330.30,251.96 L330.80,252.01 L331.30,252.08 L331.80,252.17 L332.30,252.26 L332.80,252.33 L333.30,252.38 L333.80,252.41 L334.30,252.43 L334.80,252.44 L335.30,252.45 L335.80,252.45 L336.30,252.45 L336.80,252.45 L337.30,252.45 L337.80,252.45 L338.30,252.45 L338.80,252.45 L339.30,252.45 L339.80,252.45 L340.30,252.45 L340.80,252.45 L341.30,252.45 L341.80,252.45 L342.30,252.45 L342.80,252.45 L343.30,252.45 L343.80,252.45 L344.30,252.45 L344.80,252.45 L345.30,252.45 L345.80,252.45 L346.30,252.45 L346.80,252.45 L347.30,252.45 L347.80,252.45 L348.30,252.45 L348.80,252.45 L349.30,252.45 L349.80,252.45 L350.30,252.45 L350.80,252.45 L351.30,252.45 L351.80,252.45 L352.30,252.45 L352.80,252.45 L353.30,252.45 L353.80,252.45 L354.30,252.45 L354.80,252.45 L355.30,252.45 L355.80,252.45 L356.30,252.45 L356.80,252.45 L357.30,252.45 L357.80,252.45 L358.30,252.45 L358.80,252.45 L359.30,252.45 L359.80,252.45 L360.30,252.45 L360.80,252.45 L361.30,252.45 L361.80,252.45 L362.30,252.45 L362.80,252.45 L363.30,252.45 L363.80,252.45 L364.30,252.45 L364.80,252.45 L365.30,252.45 L365.80,252.45 L366.30,252.45 L366.80,252.45 L367.30,252.45 L367.80,252.45 L368.30,252.45 L368.80,252.45 L369.30,252.45 L369.80,252.45 L370.30,252.45 L370.80,252.45 L371.30,252.44 L371.80,252.43 L372.30,252.42 L372.80,252.39 L373.30,252.35 L373.80,252.29 L374.30,252.21 L374.80,252.14 L375.30,252.08 L375.80,252.05 L376.30,252.06 L376.80,252.09 L377.30,252.16 L377.80,252.23 L378.30,252.30 L378.80,252.36 L379.30,252.40 L379.80,252.42 L380.30,252.44 L380.80,252.44 L381.30,252.45 L381.80,252.45 L382.30,252.45 L382.80,252.45 L383.30,252.45 L383.80,252.45 L384.30,252.45 L384.80,252.45 L385.30,252.45 L385.80,252.45 L386.30,252.45 L386.80,252.45 L387.30,252.45 L387.80,252.45 L388.30,252.45 L388.80,252.45 L389.30,252.45 L389.80,252.45" fill="none" stroke="#4f7fc6" stroke-width="0.9" stroke-opacity="0.9"/>
<path d="M169.80,252.45 L170.30,252.45 L170.80,252.45 L171.30,252.45 L171.80,252.45 L172.30,252.45 L172.80,252.45 L173.30,252.45 L173.80,252.45 L174.30,252.45 L174.80,252.45 L175.30,252.45 L175.80,252.45 L176.30,252.45 L176.80,252.45 L177.30,252.45 L177.80,252.45 L178.30,252.45 L178.80,252.45 L179.30,252.45 L179.80,252.45 L180.30,252.45 L180.80,252.45 L181.30,252.45 L181.80,252.45 L182.30,252.45 L182.80,252.45 L183.30,252.45 L183.80,252.45 L184.30,252.44 L184.80,252.43 L185.30,252.41 L185.80,252.37 L186.30,252.31 L186.80,252.23 L187.30,252.12 L187.80,251.99 L188.30,251.85 L188.80,251.71 L189.30,251.57 L189.80,251.43 L190.30,251.29 L190.80,251.17 L191.30,251.05 L191.80,250.94 L192.30,250.84 L192.80,250.75 L193.30,250.69 L193.80,250.64 L194.30,250.63 L194.80,250.64 L195.30,250.68 L195.80,250.74 L196.30,250.80 L196.80,250.88 L197.30,250.97 L197.80,251.07 L198.30,251.16 L198.80,251.27 L199.30,251.37 L199.80,251.48 L200.30,251.60 L200.80,251.71 L201.30,251.82 L201.80,251.93 L202.30,252.04 L202.80,252.14 L203.30,252.23 L203.80,252.31 L204.30,252.36 L204.80,252.40 L205.30,252.42 L205.80,252.44 L206.30,252.44 L206.80,252.45 L207.30,252.45 L207.80,252.45 L208.30,252.45 L208.80,252.45 L209.30,252.45 L209.80,252.45 L210.30,252.45 L210.80,252.45 L211.30,252.45 L211.80,252.45 L212.30,252.45 L212.80,252.45 L213.30,252.45 L213.80,252.45 L214.30,252.45 L214.80,252.45 L215.30,252.45 L215.80,252.45 L216.30,252.45 L216.80,252.45 L217.30,252.45 L217.80,252.45 L218.30,252.45 L218.80,252.45 L219.30,252.45 L219.80,252.45 L220.30,252.45 L220.80,252.45 L221.30,252.45 L221.80,252.45 L222.30,252.45 L222.80,252.45 L223.30,252.45 L223.80,252.45 L224.30,252.45 L224.80,252.45 L225.30,252.45 L225.80,252.45 L226.30,252.45 L226.80,252.45 L227.30,252.45 L227.80,252.45 L228.30,252.45 L228.80,252.45 L229.30,252.45 L229.80,252.45 L230.30,252.45 L230.80,252.45 L231.30,252.45 L231.80,252.45 L232.30,252.45 L232.80,252.45 L233.30,252.45 L233.80,252.45 L234.30,252.45 L234.80,252.45 L235.30,252.45 L235.80,252.45 L236.30,252.45 L236.80,252.45 L237.30,252.45 L237.80,252.45 L238.30,252.45 L238.80,252.45 L239.30,252.44 L239.80,252.42 L240.30,252.38 L240.80,252.29 L241.30,252.09 L241.80,251.73 L242.30,251.15 L242.80,250.29 L243.30,249.19 L243.80,247.95 L244.30,246.79 L244.80,245.95 L245.30,245.62 L245.80,245.88 L246.30,246.60 L246.80,247.52 L247.30,248.28 L247.80,248.57 L248.30,248.16 L248.80,247.00 L249.30,245.25 L249.80,243.28 L250.30,241.55 L250.80,240.54 L251.30,240.52 L251.80,241.47 L252.30,243.08 L252.80,244.82 L253.30,246.13 L253.80,246.59 L254.30,245.97 L254.80,244.35 L255.30,242.09 L255.80,239.77 L256.30,238.03 L256.80,237.38 L257.30,238.00 L257.80,239.68 L258.30,241.87 L258.80,243.88 L259.30,245.07 L259.80,245.04 L260.30,243.69 L260.80,241.28 L261.30,238.42 L261.80,235.88 L262.30,234.37 L262.80,234.36 L263.30,235.83 L263.80,238.30 L264.30,241.01 L264.80,243.14 L265.30,244.04 L265.80,243.42 L266.30,241.38 L266.80,238.43 L267.30,235.35 L267.80,233.03 L268.30,232.17 L268.80,233.04 L269.30,235.39 L269.80,238.52 L270.30,241.59 L270.80,243.81 L271.30,244.72 L271.80,244.20 L272.30,242.55 L272.80,240.32 L273.30,238.26 L273.80,237.03 L274.30,237.05 L274.80,238.33 L275.30,240.49 L275.80,242.90 L276.30,244.91 L276.80,246.00 L277.30,245.94 L277.80,244.80 L278.30,242.96 L278.80,240.97 L279.30,239.45 L279.80,238.89 L280.30,239.49 L280.80,241.08 L281.30,243.21 L281.80,245.33 L282.30,246.94 L282.80,247.75 L283.30,247.67 L283.80,246.89 L284.30,245.74 L284.80,244.65 L285.30,243.99 L285.80,244.02 L286.30,244.76 L286.80,246.02 L287.30,247.49 L287.80,248.86 L288.30,249.91 L288.80,250.53 L289.30,250.75 L289.80,250.69 L290.30,250.48 L290.80,250.29 L291.30,250.23 L291.80,250.34 L292.30,250.62 L292.80,250.99 L293.30,251.39 L293.80,251.75 L294.30,252.03 L294.80,252.22 L295.30,252.33 L295.80,252.40 L296.30,252.43 L296.80,252.44 L297.30,252.45 L297.80,252.45 L298.30,252.45 L298.80,252.45 L299.30,252.45 L299.80,252.45 L300.30,252.45 L300.80,252.45 L301.30,252.45 L301.80,252.45 L302.30,252.45 L302.80,252.45 L303.30,252.45 L303.80,252.45 L304.30,252.45 L304.80,252.45 L305.30,252.45 L305.80,252.45 L306.30,252.45 L306.80,252.45 L307.30,252.45 L307.80,252.45 L308.30,252.45 L308.80,252.45 L309.30,252.45 L309.80,252.45 L310.30,252.45 L310.80,252.45 L311.30,252.45 L311.80,252.45 L312.30,252.45 L312.80,252.45 L313.30,252.45 L313.80,252.45 L314.30,252.45 L314.80,252.45 L315.30,252.45 L315.80,252.45 L316.30,252.45 L316.80,252.45 L317.30,252.45 L317.80,252.45 L318.30,252.45 L318.80,252.45 L319.30,252.45 L319.80,252.45 L320.30,252.45 L320.80,252.45 L321.30,252.45 L321.80,252.45 L322.30,252.45 L322.80,252.45 L323.30,252.45 L323.80,252.45 L324.30,252.45 L324.80,252.45 L325.30,252.45 L325.80,252.45 L326.30,252.45 L326.80,252.45 L327.30,252.45 L327.80,252.45 L328.30,252.45 L328.80,252.45 L329.30,252.45 L329.80,252.45 L330.30,252.45 L330.80,252.45 L331.30,252.45 L331.80,252.45 L332.30,252.45 L332.80,252.45 L333.30,252.45 L333.80,252.45 L334.30,252.45 L334.80,252.45 L335.30,252.45 L335.80,252.45 L336.30,252.45 L336.80,252.45 L337.30,252.45 L337.80,252.45 L338.30,252.45 L338.80,252.45 L339.30,252.45 L339.80,252.45 L340.30,252.45 L340.80,252.45 L341.30,252.45 L341.80,252.45 L342.30,252.45 L342.80,252.45 L343.30,252.45 L343.80,252.45 L344.30,252.45 L344.80,252.45 L345.30,252.45 L345.80,252.45 L346.30,252.45 L346.80,252.45 L347.30,252.45 L347.80,252.45 L348.30,252.45 L348.80,252.45 L349.30,252.45 L349.80,252.45 L350.30,252.45 L350.80,252.45 L351.30,252.45 L351.80,252.45 L352.30,252.45 L352.80,252.45 L353.30,252.45 L353.80,252.45 L354.30,252.45 L354.80,252.45 L355.30,252.45 L355.80,252.45 L356.30,252.45 L356.80,252.45 L357.30,252.45 L357.80,252.45 L358.30,252.45 L358.80,252.45 L359.30,252.45 L359.80,252.45 L360.30,252.45 L360.80,252.45 L361.30,252.45 L361.80,252.45 L362.30,252.45 L362.80,252.45 L363.30,252.45 L363.80,252.45 L364.30,252.45 L364.80,252.45 L365.30,252.45 L365.80,252.45 L366.30,252.45 L366.80,252.45 L367.30,252.45 L367.80,252.45 L368.30,252.45 L368.80,252.45 L369.30,252.45 L369.80,252.45 L370.30,252.45 L370.80,252.45 L371.30,252.45 L371.80,252.45 L372.30,252.45 L372.80,252.45 L373.30,252.45 L373.80,252.45 L374.30,252.45 L374.80,252.45 L375.30,252.45 L375.80,252.45 L376.30,252.45 L376.80,252.45 L377.30,252.45 L377.80,252.45 L378.30,252.45 L378.80,252.45 L379.30,252.45 L379.80,252.45 L380.30,252.45 L380.80,252.45 L381.30,252.45 L381.80,252.45 L382.30,252.45 L382.80,252.45 L383.30,252.45 L383.80,252.45 L384.30,252.45 L384.80,252.45 L385.30,252.45 L385.80,252.45 L386.30,252.45 L386.80,252.45 L387.30,252.45 L387.80,252.45 L388.30,252.45 L388.80,252.45 L389.30,252.45 L389.80,252.45" fill="none" stroke="#3fa45a" stroke-width="0.9" stroke-opacity="0.85"/>
<path d="M169.80,252.45 L170.30,252.45 L170.80,252.45 L171.30,252.45 L171.80,252.45 L172.30,252.45 L172.80,252.45 L173.30,252.45 L173.80,252.45 L174.30,252.45 L174.80,252.45 L175.30,252.45 L175.80,252.45 L176.30,252.45 L176.80,252.45 L177.30,252.45 L177.80,252.45 L178.30,252.45 L178.80,252.45 L179.30,252.45 L179.80,252.45 L180.30,252.45 L180.80,252.45 L181.30,252.45 L181.80,252.45 L182.30,252.45 L182.80,252.45 L183.30,252.45 L183.80,252.45 L184.30,252.44 L184.80,252.43 L185.30,252.41 L185.80,252.37 L186.30,252.31 L186.80,252.23 L187.30,252.12 L187.80,251.99 L188.30,251.85 L188.80,251.71 L189.30,251.57 L189.80,251.43 L190.30,251.29 L190.80,251.17 L191.30,251.05 L191.80,250.94 L192.30,250.84 L192.80,250.75 L193.30,250.69 L193.80,250.64 L194.30,250.63 L194.80,250.64 L195.30,250.68 L195.80,250.74 L196.30,250.80 L196.80,250.88 L197.30,250.97 L197.80,251.07 L198.30,251.16 L198.80,251.27 L199.30,251.37 L199.80,251.48 L200.30,251.60 L200.80,251.71 L201.30,251.82 L201.80,251.93 L202.30,252.04 L202.80,252.14 L203.30,252.23 L203.80,252.31 L204.30,252.36 L204.80,252.40 L205.30,252.42 L205.80,252.44 L206.30,252.44 L206.80,252.45 L207.30,252.45 L207.80,252.45 L208.30,252.45 L208.80,252.45 L209.30,252.45 L209.80,252.45 L210.30,252.45 L210.80,252.45 L211.30,252.45 L211.80,252.45 L212.30,252.45 L212.80,252.45 L213.30,252.45 L213.80,252.45 L214.30,252.45 L214.80,252.45 L215.30,252.45 L215.80,252.45 L216.30,252.45 L216.80,252.45 L217.30,252.45 L217.80,252.45 L218.30,252.45 L218.80,252.45 L219.30,252.45 L219.80,252.45 L220.30,252.45 L220.80,252.45 L221.30,252.45 L221.80,252.45 L222.30,252.45 L222.80,252.45 L223.30,252.45 L223.80,252.45 L224.30,252.45 L224.80,252.45 L225.30,252.45 L225.80,252.45 L226.30,252.45 L226.80,252.45 L227.30,252.45 L227.80,252.45 L228.30,252.45 L228.80,252.45 L229.30,252.45 L229.80,252.45 L230.30,252.45 L230.80,252.45 L231.30,252.45 L231.80,252.45 L232.30,252.45 L232.80,252.45 L233.30,252.45 L233.80,252.45 L234.30,252.45 L234.80,252.45 L235.30,252.45 L235.80,252.45 L236.30,252.45 L236.80,252.45 L237.30,252.45 L237.80,252.45 L238.30,252.45 L238.80,252.45 L239.30,252.45 L239.80,252.45 L240.30,252.44 L240.80,252.42 L241.30,252.37 L241.80,252.28 L242.30,252.11 L242.80,251.84 L243.30,251.43 L243.80,250.91 L244.30,250.33 L244.80,249.79 L245.30,249.39 L245.80,249.24 L246.30,249.36 L246.80,249.71 L247.30,250.15 L247.80,250.54 L248.30,250.72 L248.80,250.59 L249.30,250.14 L249.80,249.43 L250.30,248.62 L250.80,247.91 L251.30,247.49 L251.80,247.48 L252.30,247.87 L252.80,248.53 L253.30,249.23 L253.80,249.74 L254.30,249.86 L254.80,249.51 L255.30,248.71 L255.80,247.64 L256.30,246.54 L256.80,245.72 L257.30,245.42 L257.80,245.70 L258.30,246.46 L258.80,247.46 L259.30,248.34 L259.80,248.79 L260.30,248.62 L260.80,247.77 L261.30,246.38 L261.80,244.77 L262.30,243.35 L262.80,242.52 L263.30,242.50 L263.80,243.29 L264.30,244.62 L264.80,246.05 L265.30,247.11 L265.80,247.43 L266.30,246.82 L266.80,245.36 L267.30,243.35 L267.80,241.30 L268.30,239.77 L268.80,239.19 L269.30,239.73 L269.80,241.20 L270.30,243.12 L270.80,244.87 L271.30,245.89 L271.80,245.81 L272.30,244.55 L272.80,242.35 L273.30,239.74 L273.80,237.43 L274.30,236.07 L274.80,236.06 L275.30,237.41 L275.80,239.70 L276.30,242.25 L276.80,244.36 L277.30,245.46 L277.80,245.32 L278.30,244.01 L278.80,241.93 L279.30,239.70 L279.80,238.01 L280.30,237.39 L280.80,238.05 L281.30,239.82 L281.80,242.20 L282.30,244.57 L282.80,246.40 L283.30,247.33 L283.80,247.32 L284.30,246.53 L284.80,245.33 L285.30,244.18 L285.80,243.49 L286.30,243.52 L286.80,244.30 L287.30,245.64 L287.80,247.19 L288.30,248.65 L288.80,249.75 L289.30,250.39 L289.80,250.62 L290.30,250.54 L290.80,250.31 L291.30,250.10 L291.80,250.03 L292.30,250.15 L292.80,250.45 L293.30,250.86 L293.80,251.30 L294.30,251.69 L294.80,251.99 L295.30,252.20 L295.80,252.32 L296.30,252.39 L296.80,252.43 L297.30,252.44 L297.80,252.45 L298.30,252.45 L298.80,252.45 L299.30,252.45 L299.80,252.45 L300.30,252.45 L300.80,252.45 L301.30,252.45 L301.80,252.45 L302.30,252.45 L302.80,252.45 L303.30,252.45 L303.80,252.45 L304.30,252.45 L304.80,252.45 L305.30,252.45 L305.80,252.45 L306.30,252.45 L306.80,252.45 L307.30,252.45 L307.80,252.45 L308.30,252.45 L308.80,252.45 L309.30,252.45 L309.80,252.45 L310.30,252.45 L310.80,252.45 L311.30,252.45 L311.80,252.45 L312.30,252.45 L312.80,252.45 L313.30,252.45 L313.80,252.45 L314.30,252.45 L314.80,252.45 L315.30,252.45 L315.80,252.45 L316.30,252.45 L316.80,252.45 L317.30,252.45 L317.80,252.45 L318.30,252.45 L318.80,252.45 L319.30,252.45 L319.80,252.45 L320.30,252.45 L320.80,252.45 L321.30,252.45 L321.80,252.45 L322.30,252.45 L322.80,252.45 L323.30,252.45 L323.80,252.45 L324.30,252.45 L324.80,252.45 L325.30,252.44 L325.80,252.43 L326.30,252.40 L326.80,252.36 L327.30,252.29 L327.80,252.20 L328.30,252.10 L328.80,251.99 L329.30,251.90 L329.80,251.85 L330.30,251.86 L330.80,251.92 L331.30,252.01 L331.80,252.12 L332.30,252.22 L332.80,252.31 L333.30,252.37 L333.80,252.41 L334.30,252.43 L334.80,252.44 L335.30,252.45 L335.80,252.45 L336.30,252.45 L336.80,252.45 L337.30,252.45 L337.80,252.45 L338.30,252.45 L338.80,252.45 L339.30,252.45 L339.80,252.45 L340.30,252.45 L340.80,252.45 L341.30,252.45 L341.80,252.45 L342.30,252.45 L342.80,252.45 L343.30,252.45 L343.80,252.45 L344.30,252.45 L344.80,252.45 L345.30,252.45 L345.80,252.45 L346.30,252.45 L346.80,252.45 L347.30,252.45 L347.80,252.45 L348.30,252.45 L348.80,252.45 L349.30,252.45 L349.80,252.45 L350.30,252.45 L350.80,252.45 L351.30,252.45 L351.80,252.45 L352.30,252.45 L352.80,252.45 L353.30,252.45 L353.80,252.45 L354.30,252.45 L354.80,252.45 L355.30,252.45 L355.80,252.45 L356.30,252.45 L356.80,252.45 L357.30,252.45 L357.80,252.45 L358.30,252.45 L358.80,252.45 L359.30,252.45 L359.80,252.45 L360.30,252.45 L360.80,252.45 L361.30,252.45 L361.80,252.45 L362.30,252.45 L362.80,252.45 L363.30,252.45 L363.80,252.45 L364.30,252.45 L364.80,252.45 L365.30,252.45 L365.80,252.45 L366.30,252.45 L366.80,252.45 L367.30,252.45 L367.80,252.45 L368.30,252.45 L368.80,252.45 L369.30,252.45 L369.80,252.45 L370.30,252.45 L370.80,252.45 L371.30,252.45 L371.80,252.45 L372.30,252.45 L372.80,252.45 L373.30,252.45 L373.80,252.45 L374.30,252.45 L374.80,252.45 L375.30,252.45 L375.80,252.45 L376.30,252.45 L376.80,252.45 L377.30,252.45 L377.80,252.45 L378.30,252.45 L378.80,252.45 L379.30,252.45 L379.80,252.45 L380.30,252.45 L380.80,252.45 L381.30,252.45 L381.80,252.45 L382.30,252.45 L382.80,252.45 L383.30,252.45 L383.80,252.45 L384.30,252.45 L384.80,252.45 L385.30,252.45 L385.80,252.45 L386.30,252.45 L386.80,252.45 L387.30,252.45 L387.80,252.45 L388.30,252.45 L388.80,252.45 L389.30,252.45 L389.80,252.45" fill="none" stroke="#d23a44" stroke-width="0.9" stroke-opacity="0.85"/>
<path d="M169.80,306.85 L170.30,306.85 L170.80,306.85 L171.30,306.85 L171.80,306.85 L172.30,306.85 L172.80,306.85 L173.30,306.85 L173.80,306.85 L174.30,306.85 L174.80,306.85 L175.30,306.85 L175.80,306.85 L176.30,306.85 L176.80,306.85 L177.30,306.85 L177.80,306.85 L178.30,306.85 L178.80,306.85 L179.30,306.85 L179.80,306.85 L180.30,306.85 L180.80,306.85 L181.30,306.85 L181.80,306.85 L182.30,306.85 L182.80,306.85 L183.30,306.85 L183.80,306.85 L184.30,306.85 L184.80,306.85 L185.30,306.85 L185.80,306.85 L186.30,306.85 L186.80,306.85 L187.30,306.85 L187.80,306.85 L188.30,306.85 L188.80,306.85 L189.30,306.85 L189.80,306.85 L190.30,306.85 L190.80,306.85 L191.30,306.85 L191.80,306.85 L192.30,306.85 L192.80,306.85 L193.30,306.85 L193.80,306.85 L194.30,306.85 L194.80,306.85 L195.30,306.85 L195.80,306.85 L196.30,306.85 L196.80,306.85 L197.30,306.85 L197.80,306.85 L198.30,306.85 L198.80,306.85 L199.30,306.85 L199.80,306.85 L200.30,306.85 L200.80,306.85 L201.30,306.85 L201.80,306.85 L202.30,306.85 L202.80,306.85 L203.30,306.85 L203.80,306.85 L204.30,306.85 L204.80,306.85 L205.30,306.85 L205.80,306.85 L206.30,306.85 L206.80,306.85 L207.30,306.85 L207.80,306.85 L208.30,306.85 L208.80,306.85 L209.30,306.85 L209.80,306.85 L210.30,306.85 L210.80,306.85 L211.30,306.85 L211.80,306.85 L212.30,306.85 L212.80,306.85 L213.30,306.85 L213.80,306.85 L214.30,306.85 L214.80,306.85 L215.30,306.85 L215.80,306.85 L216.30,306.85 L216.80,306.85 L217.30,306.85 L217.80,306.85 L218.30,306.85 L218.80,306.85 L219.30,306.85 L219.80,306.85 L220.30,306.85 L220.80,306.85 L221.30,306.85 L221.80,306.85 L222.30,306.85 L222.80,306.85 L223.30,306.85 L223.80,306.85 L224.30,306.85 L224.80,306.85 L225.30,306.85 L225.80,306.85 L226.30,306.85 L226.80,306.85 L227.30,306.85 L227.80,306.85 L228.30,306.85 L228.80,306.85 L229.30,306.85 L229.80,306.85 L230.30,306.85 L230.80,306.85 L231.30,306.85 L231.80,306.85 L232.30,306.85 L232.80,306.85 L233.30,306.85 L233.80,306.85 L234.30,306.85 L234.80,306.85 L235.30,306.85 L235.80,306.85 L236.30,306.85 L236.80,306.85 L237.30,306.85 L237.80,306.85 L238.30,306.85 L238.80,306.85 L239.30,306.85 L239.80,306.85 L240.30,306.85 L240.80,306.85 L241.30,306.85 L241.80,306.85 L242.30,306.85 L242.80,306.85 L243.30,306.85 L243.80,306.85 L244.30,306.85 L244.80,306.85 L245.30,306.85 L245.80,306.84 L246.30,306.83 L246.80,306.82 L247.30,306.79 L247.80,306.73 L248.30,306.65 L248.80,306.52 L249.30,306.33 L249.80,306.08 L250.30,305.75 L250.80,305.36 L251.30,304.91 L251.80,304.45 L252.30,304.02 L252.80,303.66 L253.30,303.43 L253.80,303.34 L254.30,303.41 L254.80,303.63 L255.30,303.95 L255.80,304.32 L256.30,304.67 L256.80,304.94 L257.30,305.07 L257.80,305.02 L258.30,304.75 L258.80,304.26 L259.30,303.57 L259.80,302.75 L260.30,301.85 L260.80,300.99 L261.30,300.28 L261.80,299.80 L262.30,299.63 L262.80,299.79 L263.30,300.24 L263.80,300.91 L264.30,301.70 L264.80,302.47 L265.30,303.09 L265.80,303.47 L266.30,303.51 L266.80,303.17 L267.30,302.43 L267.80,301.35 L268.30,300.02 L268.80,298.56 L269.30,297.16 L269.80,295.98 L270.30,295.20 L270.80,294.92 L271.30,295.18 L271.80,295.93 L272.30,297.05 L272.80,298.36 L273.30,299.66 L273.80,300.74 L274.30,301.42 L274.80,301.57 L275.30,301.13 L275.80,300.07 L276.30,298.48 L276.80,296.48 L277.30,294.30 L277.80,292.18 L278.30,290.41 L278.80,289.23 L279.30,288.81 L279.80,289.21 L280.30,290.37 L280.80,292.09 L281.30,294.12 L281.80,296.16 L282.30,297.93 L282.80,299.17 L283.30,299.71 L283.80,299.46 L284.30,298.40 L284.80,296.63 L285.30,294.34 L285.80,291.79 L286.30,289.29 L286.80,287.20 L287.30,285.80 L287.80,285.30 L288.30,285.78 L288.80,287.16 L289.30,289.21 L289.80,291.63 L290.30,294.07 L290.80,296.16 L291.30,297.62 L291.80,298.23 L292.30,297.88 L292.80,296.56 L293.30,294.38 L293.80,291.57 L294.30,288.43 L294.80,285.38 L295.30,282.81 L295.80,281.10 L296.30,280.50 L296.80,281.10 L297.30,282.81 L297.80,285.38 L298.30,288.44 L298.80,291.57 L299.30,294.40 L299.80,296.58 L300.30,297.91 L300.80,298.28 L301.30,297.68 L301.80,296.24 L302.30,294.18 L302.80,291.77 L303.30,289.37 L303.80,287.34 L304.30,285.98 L304.80,285.51 L305.30,286.01 L305.80,287.41 L306.30,289.52 L306.80,292.04 L307.30,294.67 L307.80,297.10 L308.30,299.09 L308.80,300.47 L309.30,301.20 L309.80,301.26 L310.30,300.76 L310.80,299.83 L311.30,298.65 L311.80,297.43 L312.30,296.37 L312.80,295.66 L313.30,295.42 L313.80,295.70 L314.30,296.45 L314.80,297.59 L315.30,298.95 L315.80,300.38 L316.30,301.72 L316.80,302.84 L317.30,303.66 L317.80,304.15 L318.30,304.33 L318.80,304.23 L319.30,303.92 L319.80,303.49 L320.30,303.02 L320.80,302.61 L321.30,302.33 L321.80,302.24 L322.30,302.35 L322.80,302.66 L323.30,303.12 L323.80,303.68 L324.30,304.26 L324.80,304.82 L325.30,305.29 L325.80,305.66 L326.30,305.91 L326.80,306.04 L327.30,306.07 L327.80,306.03 L328.30,305.94 L328.80,305.84 L329.30,305.74 L329.80,305.67 L330.30,305.65 L330.80,305.68 L331.30,305.76 L331.80,305.88 L332.30,306.03 L332.80,306.19 L333.30,306.34 L333.80,306.47 L334.30,306.59 L334.80,306.67 L335.30,306.74 L335.80,306.78 L336.30,306.81 L336.80,306.83 L337.30,306.84 L337.80,306.84 L338.30,306.85 L338.80,306.85 L339.30,306.85 L339.80,306.85 L340.30,306.85 L340.80,306.85 L341.30,306.85 L341.80,306.85 L342.30,306.85 L342.80,306.85 L343.30,306.85 L343.80,306.85 L344.30,306.85 L344.80,306.85 L345.30,306.85 L345.80,306.85 L346.30,306.85 L346.80,306.85 L347.30,306.85 L347.80,306.85 L348.30,306.85 L348.80,306.85 L349.30,306.85 L349.80,306.85 L350.30,306.85 L350.80,306.85 L351.30,306.85 L351.80,306.85 L352.30,306.85 L352.80,306.85 L353.30,306.85 L353.80,306.85 L354.30,306.85 L354.80,306.85 L355.30,306.85 L355.80,306.85 L356.30,306.85 L356.80,306.85 L357.30,306.85 L357.80,306.85 L358.30,306.85 L358.80,306.85 L359.30,306.85 L359.80,306.85 L360.30,306.85 L360.80,306.85 L361.30,306.85 L361.80,306.85 L362.30,306.85 L362.80,306.85 L363.30,306.85 L363.80,306.85 L364.30,306.85 L364.80,306.85 L365.30,306.85 L365.80,306.85 L366.30,306.85 L366.80,306.85 L367.30,306.85 L367.80,306.85 L368.30,306.85 L368.80,306.85 L369.30,306.85 L369.80,306.85 L370.30,306.85 L370.80,306.85 L371.30,306.85 L371.80,306.85 L372.30,306.85 L372.80,306.85 L373.30,306.85 L373.80,306.85 L374.30,306.85 L374.80,306.85 L375.30,306.85 L375.80,306.85 L376.30,306.85 L376.80,306.85 L377.30,306.85 L377.80,306.85 L378.30,306.85 L378.80,306.85 L379.30,306.85 L379.80,306.85 L380.30,306.85 L380.80,306.85 L381.30,306.85 L381.80,306.85 L382.30,306.85 L382.80,306.85 L383.30,306.85 L383.80,306.85 L384.30,306.85 L384.80,306.85 L385.30,306.85 L385.80,306.85 L386.30,306.85 L386.80,306.85 L387.30,306.85 L387.80,306.85 L388.30,306.85 L388.80,306.85 L389.30,306.85 L389.80,306.85" fill="none" stroke="#4f7fc6" stroke-width="0.9" stroke-opacity="0.9"/>
<path d="M169.80,306.85 L170.30,306.85 L170.80,306.85 L171.30,306.85 L171.80,306.85 L172.30,306.85 L172.80,306.85 L173.30,306.85 L173.80,306.85 L174.30,306.85 L174.80,306.85 L175.30,306.85 L175.80,306.85 L176.30,306.85 L176.80,306.85 L177.30,306.85 L177.80,306.85 L178.30,306.85 L178.80,306.85 L179.30,306.85 L179.80,306.85 L180.30,306.85 L180.80,306.85 L181.30,306.85 L181.80,306.85 L182.30,306.85 L182.80,306.85 L183.30,306.85 L183.80,306.85 L184.30,306.85 L184.80,306.85 L185.30,306.85 L185.80,306.85 L186.30,306.85 L186.80,306.85 L187.30,306.85 L187.80,306.85 L188.30,306.85 L188.80,306.85 L189.30,306.85 L189.80,306.85 L190.30,306.85 L190.80,306.85 L191.30,306.85 L191.80,306.85 L192.30,306.85 L192.80,306.85 L193.30,306.85 L193.80,306.85 L194.30,306.85 L194.80,306.85 L195.30,306.85 L195.80,306.85 L196.30,306.85 L196.80,306.85 L197.30,306.85 L197.80,306.85 L198.30,306.85 L198.80,306.85 L199.30,306.85 L199.80,306.85 L200.30,306.85 L200.80,306.85 L201.30,306.85 L201.80,306.85 L202.30,306.85 L202.80,306.85 L203.30,306.85 L203.80,306.85 L204.30,306.85 L204.80,306.85 L205.30,306.85 L205.80,306.85 L206.30,306.85 L206.80,306.85 L207.30,306.85 L207.80,306.85 L208.30,306.85 L208.80,306.85 L209.30,306.85 L209.80,306.85 L210.30,306.84 L210.80,306.84 L211.30,306.82 L211.80,306.80 L212.30,306.77 L212.80,306.73 L213.30,306.66 L213.80,306.58 L214.30,306.47 L214.80,306.35 L215.30,306.22 L215.80,306.09 L216.30,305.98 L216.80,305.89 L217.30,305.85 L217.80,305.85 L218.30,305.90 L218.80,305.98 L219.30,306.08 L219.80,306.18 L220.30,306.26 L220.80,306.30 L221.30,306.28 L221.80,306.20 L222.30,306.05 L222.80,305.83 L223.30,305.55 L223.80,305.24 L224.30,304.93 L224.80,304.66 L225.30,304.46 L225.80,304.36 L226.30,304.36 L226.80,304.48 L227.30,304.69 L227.80,304.95 L228.30,305.22 L228.80,305.44 L229.30,305.57 L229.80,305.56 L230.30,305.35 L230.80,304.91 L231.30,304.23 L231.80,303.29 L232.30,302.14 L232.80,300.84 L233.30,299.51 L233.80,298.28 L234.30,297.30 L234.80,296.69 L235.30,296.54 L235.80,296.84 L236.30,297.56 L236.80,298.56 L237.30,299.69 L237.80,300.74 L238.30,301.55 L238.80,301.96 L239.30,301.86 L239.80,301.18 L240.30,299.93 L240.80,298.19 L241.30,296.10 L241.80,293.88 L242.30,291.80 L242.80,290.13 L243.30,289.08 L243.80,288.82 L244.30,289.38 L244.80,290.64 L245.30,292.42 L245.80,294.44 L246.30,296.37 L246.80,297.91 L247.30,298.83 L247.80,298.94 L248.30,298.14 L248.80,296.46 L249.30,294.00 L249.80,291.00 L250.30,287.79 L250.80,284.76 L251.30,282.31 L251.80,280.79 L252.30,280.41 L252.80,281.23 L253.30,283.11 L253.80,285.74 L254.30,288.73 L254.80,291.63 L255.30,294.02 L255.80,295.54 L256.30,295.94 L256.80,295.11 L257.30,293.06 L257.80,289.95 L258.30,286.11 L258.80,281.96 L259.30,278.04 L259.80,274.86 L260.30,272.89 L260.80,272.41 L261.30,273.49 L261.80,275.95 L262.30,279.42 L262.80,283.38 L263.30,287.28 L263.80,290.57 L264.30,292.82 L264.80,293.73 L265.30,293.17 L265.80,291.16 L266.30,287.91 L266.80,283.78 L267.30,279.27 L267.80,274.98 L268.30,271.50 L268.80,269.33 L269.30,268.81 L269.80,270.01 L270.30,272.75 L270.80,276.61 L271.30,281.04 L271.80,285.44 L272.30,289.22 L272.80,291.92 L273.30,293.25 L273.80,293.06 L274.30,291.39 L274.80,288.45 L275.30,284.60 L275.80,280.35 L276.30,276.28 L276.80,272.96 L277.30,270.90 L277.80,270.42 L278.30,271.58 L278.80,274.23 L279.30,277.98 L279.80,282.31 L280.30,286.65 L280.80,290.50 L281.30,293.43 L281.80,295.18 L282.30,295.65 L282.80,294.88 L283.30,293.05 L283.80,290.45 L284.30,287.49 L284.80,284.60 L285.30,282.24 L285.80,280.76 L286.30,280.42 L286.80,281.28 L287.30,283.22 L287.80,285.97 L288.30,289.17 L288.80,292.42 L289.30,295.35 L289.80,297.71 L290.30,299.31 L290.80,300.09 L291.30,300.10 L291.80,299.44 L292.30,298.29 L292.80,296.89 L293.30,295.49 L293.80,294.32 L294.30,293.60 L294.80,293.43 L295.30,293.88 L295.80,294.87 L296.30,296.29 L296.80,297.94 L297.30,299.64 L297.80,301.21 L298.30,302.53 L298.80,303.52 L299.30,304.16 L299.80,304.46 L300.30,304.49 L300.80,304.31 L301.30,304.00 L301.80,303.66 L302.30,303.37 L302.80,303.18 L303.30,303.14 L303.80,303.27 L304.30,303.54 L304.80,303.93 L305.30,304.39 L305.80,304.86 L306.30,305.29 L306.80,305.66 L307.30,305.93 L307.80,306.11 L308.30,306.20 L308.80,306.21 L309.30,306.16 L309.80,306.08 L310.30,305.99 L310.80,305.91 L311.30,305.86 L311.80,305.85 L312.30,305.88 L312.80,305.96 L313.30,306.06 L313.80,306.19 L314.30,306.32 L314.80,306.45 L315.30,306.56 L315.80,306.65 L316.30,306.71 L316.80,306.76 L317.30,306.80 L317.80,306.82 L318.30,306.83 L318.80,306.84 L319.30,306.85 L319.80,306.85 L320.30,306.85 L320.80,306.85 L321.30,306.85 L321.80,306.85 L322.30,306.85 L322.80,306.85 L323.30,306.85 L323.80,306.85 L324.30,306.85 L324.80,306.85 L325.30,306.85 L325.80,306.85 L326.30,306.85 L326.80,306.85 L327.30,306.85 L327.80,306.85 L328.30,306.85 L328.80,306.85 L329.30,306.85 L329.80,306.85 L330.30,306.85 L330.80,306.85 L331.30,306.85 L331.80,306.85 L332.30,306.85 L332.80,306.85 L333.30,306.85 L333.80,306.85 L334.30,306.85 L334.80,306.85 L335.30,306.85 L335.80,306.85 L336.30,306.85 L336.80,306.85 L337.30,306.85 L337.80,306.85 L338.30,306.85 L338.80,306.85 L339.30,306.85 L339.80,306.85 L340.30,306.85 L340.80,306.85 L341.30,306.85 L341.80,306.85 L342.30,306.85 L342.80,306.85 L343.30,306.85 L343.80,306.85 L344.30,306.85 L344.80,306.85 L345.30,306.85 L345.80,306.85 L346.30,306.85 L346.80,306.85 L347.30,306.85 L347.80,306.85 L348.30,306.85 L348.80,306.85 L349.30,306.85 L349.80,306.85 L350.30,306.85 L350.80,306.85 L351.30,306.85 L351.80,306.85 L352.30,306.85 L352.80,306.85 L353.30,306.85 L353.80,306.85 L354.30,306.85 L354.80,306.85 L355.30,306.85 L355.80,306.85 L356.30,306.85 L356.80,306.85 L357.30,306.85 L357.80,306.85 L358.30,306.85 L358.80,306.85 L359.30,306.85 L359.80,306.85 L360.30,306.85 L360.80,306.85 L361.30,306.85 L361.80,306.85 L362.30,306.85 L362.80,306.85 L363.30,306.85 L363.80,306.85 L364.30,306.85 L364.80,306.85 L365.30,306.85 L365.80,306.85 L366.30,306.85 L366.80,306.85 L367.30,306.85 L367.80,306.85 L368.30,306.85 L368.80,306.85 L369.30,306.85 L369.80,306.85 L370.30,306.85 L370.80,306.85 L371.30,306.85 L371.80,306.85 L372.30,306.85 L372.80,306.85 L373.30,306.85 L373.80,306.85 L374.30,306.85 L374.80,306.85 L375.30,306.85 L375.80,306.85 L376.30,306.85 L376.80,306.85 L377.30,306.85 L377.80,306.85 L378.30,306.85 L378.80,306.85 L379.30,306.85 L379.80,306.85 L380.30,306.85 L380.80,306.85 L381.30,306.85 L381.80,306.85 L382.30,306.85 L382.80,306.85 L383.30,306.85 L383.80,306.85 L384.30,306.85 L384.80,306.85 L385.30,306.85 L385.80,306.85 L386.30,306.85 L386.80,306.85 L387.30,306.85 L387.80,306.85 L388.30,306.85 L388.80,306.85 L389.30,306.85 L389.80,306.85" fill="none" stroke="#d23a44" stroke-width="0.9" stroke-opacity="0.85"/>
<path d="M169.80,306.85 L170.30,306.85 L170.80,306.85 L171.30,306.85 L171.80,306.85 L172.30,306.85 L172.80,306.85 L173.30,306.85 L173.80,306.85 L174.30,306.85 L174.80,306.85 L175.30,306.85 L175.80,306.85 L176.30,306.85 L176.80,306.85 L177.30,306.85 L177.80,306.85 L178.30,306.85 L178.80,306.85 L179.30,306.85 L179.80,306.85 L180.30,306.85 L180.80,306.85 L181.30,306.85 L181.80,306.85 L182.30,306.85 L182.80,306.85 L183.30,306.85 L183.80,306.85 L184.30,306.85 L184.80,306.85 L185.30,306.85 L185.80,306.85 L186.30,306.85 L186.80,306.85 L187.30,306.85 L187.80,306.85 L188.30,306.85 L188.80,306.85 L189.30,306.85 L189.80,306.85 L190.30,306.85 L190.80,306.85 L191.30,306.85 L191.80,306.85 L192.30,306.85 L192.80,306.85 L193.30,306.85 L193.80,306.85 L194.30,306.85 L194.80,306.85 L195.30,306.85 L195.80,306.85 L196.30,306.85 L196.80,306.85 L197.30,306.85 L197.80,306.85 L198.30,306.85 L198.80,306.85 L199.30,306.85 L199.80,306.85 L200.30,306.85 L200.80,306.85 L201.30,306.85 L201.80,306.85 L202.30,306.85 L202.80,306.85 L203.30,306.85 L203.80,306.85 L204.30,306.85 L204.80,306.85 L205.30,306.85 L205.80,306.85 L206.30,306.85 L206.80,306.85 L207.30,306.85 L207.80,306.85 L208.30,306.85 L208.80,306.85 L209.30,306.85 L209.80,306.85 L210.30,306.85 L210.80,306.85 L211.30,306.85 L211.80,306.85 L212.30,306.85 L212.80,306.85 L213.30,306.85 L213.80,306.85 L214.30,306.85 L214.80,306.85 L215.30,306.85 L215.80,306.85 L216.30,306.85 L216.80,306.85 L217.30,306.85 L217.80,306.85 L218.30,306.85 L218.80,306.85 L219.30,306.85 L219.80,306.85 L220.30,306.85 L220.80,306.85 L221.30,306.85 L221.80,306.84 L222.30,306.83 L222.80,306.81 L223.30,306.76 L223.80,306.68 L224.30,306.55 L224.80,306.32 L225.30,305.98 L225.80,305.47 L226.30,304.77 L226.80,303.85 L227.30,302.74 L227.80,301.47 L228.30,300.13 L228.80,298.84 L229.30,297.74 L229.80,296.97 L230.30,296.62 L230.80,296.72 L231.30,297.24 L231.80,298.07 L232.30,299.05 L232.80,299.99 L233.30,300.70 L233.80,301.01 L234.30,300.81 L234.80,300.06 L235.30,298.79 L235.80,297.12 L236.30,295.23 L236.80,293.38 L237.30,291.81 L237.80,290.76 L238.30,290.40 L238.80,290.76 L239.30,291.81 L239.80,293.35 L240.30,295.17 L240.80,296.96 L241.30,298.46 L241.80,299.43 L242.30,299.68 L242.80,299.12 L243.30,297.73 L243.80,295.62 L244.30,292.95 L244.80,290.03 L245.30,287.20 L245.80,284.84 L246.30,283.26 L246.80,282.70 L247.30,283.23 L247.80,284.77 L248.30,287.07 L248.80,289.78 L249.30,292.49 L249.80,294.82 L250.30,296.43 L250.80,297.07 L251.30,296.62 L251.80,295.06 L252.30,292.53 L252.80,289.26 L253.30,285.64 L253.80,282.12 L254.30,279.16 L254.80,277.19 L255.30,276.49 L255.80,277.17 L256.30,279.13 L256.80,282.05 L257.30,285.51 L257.80,289.03 L258.30,292.13 L258.80,294.40 L259.30,295.58 L259.80,295.53 L260.30,294.23 L260.80,291.83 L261.30,288.61 L261.80,284.98 L262.30,281.41 L262.80,278.40 L263.30,276.39 L263.80,275.69 L264.30,276.40 L264.80,278.42 L265.30,281.45 L265.80,285.05 L266.30,288.74 L266.80,292.05 L267.30,294.59 L267.80,296.10 L268.30,296.44 L268.80,295.63 L269.30,293.79 L269.80,291.19 L270.30,288.19 L270.80,285.20 L271.30,282.67 L271.80,280.98 L272.30,280.40 L272.80,281.01 L273.30,282.73 L273.80,285.32 L274.30,288.42 L274.80,291.60 L275.30,294.50 L275.80,296.80 L276.30,298.27 L276.80,298.83 L277.30,298.49 L277.80,297.35 L278.30,295.61 L278.80,293.55 L279.30,291.47 L279.80,289.71 L280.30,288.52 L280.80,288.11 L281.30,288.55 L281.80,289.78 L282.30,291.64 L282.80,293.86 L283.30,296.18 L283.80,298.32 L284.30,300.08 L284.80,301.33 L285.30,302.00 L285.80,302.10 L286.30,301.72 L286.80,300.97 L287.30,300.00 L287.80,298.99 L288.30,298.11 L288.80,297.53 L289.30,297.33 L289.80,297.56 L290.30,298.19 L290.80,299.14 L291.30,300.28 L291.80,301.49 L292.30,302.62 L292.80,303.58 L293.30,304.31 L293.80,304.79 L294.30,305.01 L294.80,305.02 L295.30,304.87 L295.80,304.62 L296.30,304.33 L296.80,304.07 L297.30,303.90 L297.80,303.84 L298.30,303.91 L298.80,304.11 L299.30,304.42 L299.80,304.78 L300.30,305.16 L300.80,305.52 L301.30,305.83 L301.80,306.07 L302.30,306.23 L302.80,306.32 L303.30,306.34 L303.80,306.31 L304.30,306.25 L304.80,306.17 L305.30,306.11 L305.80,306.06 L306.30,306.05 L306.80,306.07 L307.30,306.12 L307.80,306.20 L308.30,306.30 L308.80,306.41 L309.30,306.51 L309.80,306.60 L310.30,306.67 L310.80,306.73 L311.30,306.77 L311.80,306.80 L312.30,306.82 L312.80,306.84 L313.30,306.84 L313.80,306.85 L314.30,306.85 L314.80,306.85 L315.30,306.85 L315.80,306.85 L316.30,306.85 L316.80,306.85 L317.30,306.85 L317.80,306.85 L318.30,306.85 L318.80,306.85 L319.30,306.85 L319.80,306.85 L320.30,306.85 L320.80,306.85 L321.30,306.85 L321.80,306.85 L322.30,306.85 L322.80,306.85 L323.30,306.85 L323.80,306.85 L324.30,306.85 L324.80,306.85 L325.30,306.85 L325.80,306.85 L326.30,306.85 L326.80,306.85 L327.30,306.85 L327.80,306.85 L328.30,306.85 L328.80,306.85 L329.30,306.85 L329.80,306.85 L330.30,306.85 L330.80,306.85 L331.30,306.85 L331.80,306.85 L332.30,306.85 L332.80,306.85 L333.30,306.85 L333.80,306.85 L334.30,306.85 L334.80,306.85 L335.30,306.85 L335.80,306.85 L336.30,306.85 L336.80,306.85 L337.30,306.85 L337.80,306.85 L338.30,306.85 L338.80,306.85 L339.30,306.85 L339.80,306.85 L340.30,306.85 L340.80,306.85 L341.30,306.85 L341.80,306.85 L342.30,306.85 L342.80,306.85 L343.30,306.85 L343.80,306.85 L344.30,306.85 L344.80,306.85 L345.30,306.85 L345.80,306.85 L346.30,306.85 L346.80,306.85 L347.30,306.85 L347.80,306.85 L348.30,306.85 L348.80,306.85 L349.30,306.85 L349.80,306.85 L350.30,306.85 L350.80,306.85 L351.30,306.85 L351.80,306.85 L352.30,306.85 L352.80,306.85 L353.30,306.85 L353.80,306.85 L354.30,306.85 L354.80,306.85 L355.30,306.85 L355.80,306.85 L356.30,306.85 L356.80,306.85 L357.30,306.85 L357.80,306.85 L358.30,306.85 L358.80,306.85 L359.30,306.85 L359.80,306.85 L360.30,306.85 L360.80,306.85 L361.30,306.85 L361.80,306.85 L362.30,306.85 L362.80,306.85 L363.30,306.85 L363.80,306.85 L364.30,306.85 L364.80,306.85 L365.30,306.85 L365.80,306.85 L366.30,306.85 L366.80,306.85 L367.30,306.85 L367.80,306.85 L368.30,306.85 L368.80,306.85 L369.30,306.85 L369.80,306.85 L370.30,306.85 L370.80,306.85 L371.30,306.85 L371.80,306.85 L372.30,306.85 L372.80,306.85 L373.30,306.85 L373.80,306.85 L374.30,306.85 L374.80,306.85 L375.30,306.85 L375.80,306.85 L376.30,306.85 L376.80,306.85 L377.30,306.85 L377.80,306.85 L378.30,306.85 L378.80,306.85 L379.30,306.85 L379.80,306.85 L380.30,306.85 L380.80,306.85 L381.30,306.85 L381.80,306.85 L382.30,306.85 L382.80,306.85 L383.30,306.85 L383.80,306.85 L384.30,306.85 L384.80,306.85 L385.30,306.85 L385.80,306.85 L386.30,306.85 L386.80,306.85 L387.30,306.85 L387.80,306.85 L388.30,306.85 L388.80,306.85 L389.30,306.85 L389.80,306.85" fill="none" stroke="#3fa45a" stroke-width="1.0" stroke-opacity="0.85"/>
<text x="472.00" y="204.60" font-size="6.6" text-anchor="middle" font-weight="normal" fill="#1a1a1a" transform="rotate(0.1 472.00 204.60)" >CT26</text>
<rect x="426.8" y="206.5" width="88.60" height="45.00" fill="#fff" stroke="#dcdcdc" stroke-width="0.8"/>
<rect x="426.8" y="263.0" width="88.60" height="43.10" fill="#fff" stroke="#dcdcdc" stroke-width="0.8"/>
<text x="472.80" y="214.90" font-size="6.55" text-anchor="middle" font-weight="normal" fill="#1a1a1a" transform="rotate(0.1 472.80 214.90)" >Neoantigens from SNVs</text>
<text x="472.60" y="271.80" font-size="6.55" text-anchor="middle" font-weight="normal" fill="#1a1a1a" transform="rotate(0.1 472.60 271.80)" >Neoantigens from frameshifts</text>
<text x="424.30" y="208.80" font-size="6.3" text-anchor="end" font-weight="normal" fill="#1a1a1a" transform="rotate(0.1 424.30 208.80)" class="th">1,200</text>
<text x="424.30" y="216.25" font-size="6.3" text-anchor="end" font-weight="normal" fill="#1a1a1a" transform="rotate(0.1 424.30 216.25)" class="th">1,100</text>
<text x="424.30" y="223.70" font-size="6.3" text-anchor="end" font-weight="normal" fill="#1a1a1a" transform="rotate(0.1 424.30 223.70)" class="th">1,000</text>
<text x="424.30" y="231.15" font-size="6.3" text-anchor="end" font-weight="normal" fill="#1a1a1a" transform="rotate(0.1 424.30 231.15)" class="th">900</text>
<text x="424.30" y="238.60" font-size="6.3" text-anchor="end" font-weight="normal" fill="#1a1a1a" transform="rotate(0.1 424.30 238.60)" class="th">800</text>
<text x="424.30" y="246.05" font-size="6.3" text-anchor="end" font-weight="normal" fill="#1a1a1a" transform="rotate(0.1 424.30 246.05)" class="th">700</text>
<text x="424.30" y="253.50" font-size="6.3" text-anchor="end" font-weight="normal" fill="#1a1a1a" transform="rotate(0.1 424.30 253.50)" class="th">600</text>
<text x="424.30" y="265.80" font-size="6.3" text-anchor="end" font-weight="normal" fill="#1a1a1a" transform="rotate(0.1 424.30 265.80)" class="th">600</text>
<text x="424.30" y="272.87" font-size="6.3" text-anchor="end" font-weight="normal" fill="#1a1a1a" transform="rotate(0.1 424.30 272.87)" class="th">500</text>
<text x="424.30" y="279.94" font-size="6.3" text-anchor="end" font-weight="normal" fill="#1a1a1a" transform="rotate(0.1 424.30 279.94)" class="th">400</text>
<text x="424.30" y="287.01" font-size="6.3" text-anchor="end" font-weight="normal" fill="#1a1a1a" transform="rotate(0.1 424.30 287.01)" class="th">300</text>
<text x="424.30" y="294.08" font-size="6.3" text-anchor="end" font-weight="normal" fill="#1a1a1a" transform="rotate(0.1 424.30 294.08)" class="th">200</text>
<text x="424.30" y="301.15" font-size="6.3" text-anchor="end" font-weight="normal" fill="#1a1a1a" transform="rotate(0.1 424.30 301.15)" class="th">100</text>
<text x="424.30" y="308.22" font-size="6.3" text-anchor="end" font-weight="normal" fill="#1a1a1a" transform="rotate(0.1 424.30 308.22)" class="th">0</text>
<rect x="434.2" y="237.7" width="15.60" height="13.80" fill="#4a72c0" stroke="#2c3f7a" stroke-width="0.7"/>
<rect x="464.6" y="225.2" width="15.80" height="26.30" fill="#ec1c24" stroke="#8e1218" stroke-width="0.7"/>
<rect x="495.4" y="229.0" width="15.90" height="22.50" fill="#3aae48" stroke="#216b2c" stroke-width="0.7"/>
<rect x="434.1" y="292.4" width="15.70" height="13.70" fill="#4a72c0" stroke="#2c3f7a" stroke-width="0.7"/>
<rect x="464.7" y="286.4" width="15.70" height="19.70" fill="#ec1c24" stroke="#8e1218" stroke-width="0.7"/>
<rect x="495.9" y="281.2" width="15.60" height="24.90" fill="#3aae48" stroke="#216b2c" stroke-width="0.7"/>
<text x="441.70" y="313.70" font-size="6.4" text-anchor="middle" font-weight="normal" fill="#1a1a1a" transform="rotate(0.1 441.70 313.70)" >Ctrl1</text>
<text x="473.40" y="313.70" font-size="6.4" text-anchor="middle" font-weight="normal" fill="#1a1a1a" transform="rotate(0.1 473.40 313.70)" ><tspan font-style="italic">Mlh1</tspan> KO3</text>
<text x="505.30" y="313.70" font-size="6.4" text-anchor="middle" font-weight="normal" fill="#1a1a1a" transform="rotate(0.1 505.30 313.70)" ><tspan font-style="italic">Mlh1</tspan> KO6</text>
<text x="0" y="0" font-size="6.4" fill="#1a1a1a" text-anchor="middle" transform="translate(405.8,257) rotate(-90)">Number of neoantigens</text>
</svg>
</body></html>
